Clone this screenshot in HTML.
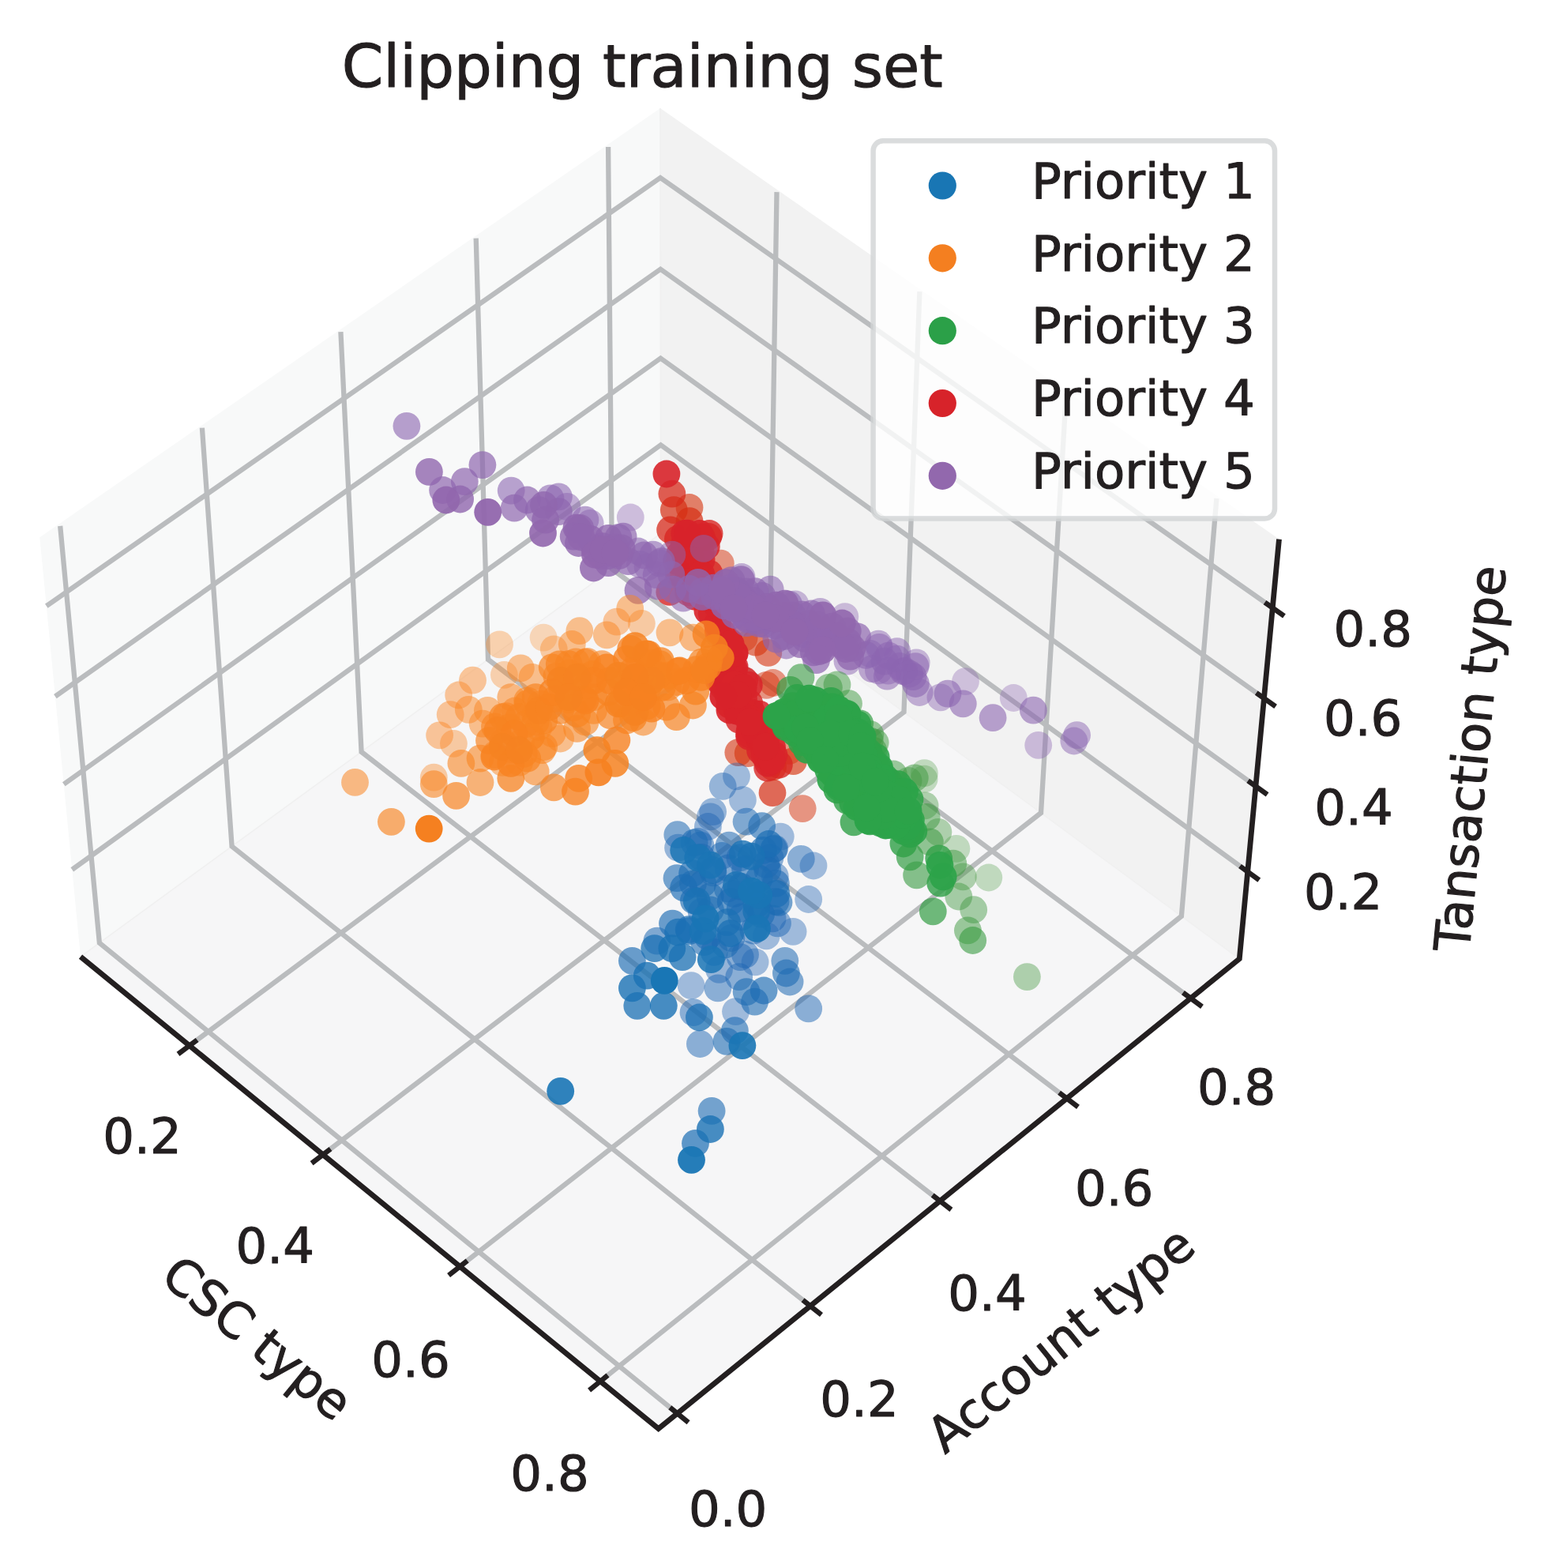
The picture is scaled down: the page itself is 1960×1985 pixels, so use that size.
<!DOCTYPE html>
<html lang="en"><head><meta charset="utf-8"><title>Clipping training set</title>
<style>html,body{margin:0;padding:0;background:#fff}svg{display:block}</style></head>
<body>
<svg width="1960" height="1985" viewBox="0 0 1960 1985" font-family='"DejaVu Sans","Liberation Sans",sans-serif' fill="#231f20">
<style>text{stroke:#231f20;stroke-width:1.1px;stroke-linejoin:round}</style>
<rect width="1960" height="1985" fill="#fff"/>
<g id="panes">
<polygon points="102.0,1211.1 836.7,675.3 836.0,137.1 50.3,680.3" fill="#f8f9f9"/>
<polygon points="836.7,675.3 1569.3,1213.8 1619.5,682.6 836.0,137.1" fill="#f2f2f2"/>
<polygon points="102.0,1211.1 833.7,1808.7 1569.3,1213.8 836.7,675.3" fill="#f6f6f7"/>
<line x1="836.7" y1="675.3" x2="836.0" y2="137.1" stroke="#f0f0f0" stroke-width="1.6"/>
<line x1="836.7" y1="675.3" x2="102.0" y2="1211.1" stroke="#f0f0f0" stroke-width="1.6"/>
<line x1="836.7" y1="675.3" x2="1569.3" y2="1213.8" stroke="#f0f0f0" stroke-width="1.6"/>
</g>
<g id="grid" fill="none" stroke="#babcbe" stroke-width="6.3" stroke-linejoin="miter" stroke-linecap="butt">
<polyline points="239.9,1323.7 975.1,777.0 983.5,243.1"/>
<polyline points="408.9,1461.7 1144.5,901.5 1164.4,369.1"/>
<polyline points="582.3,1603.3 1318.0,1029.1 1350.0,498.3"/>
<polyline points="760.1,1748.6 1495.9,1159.8 1540.4,631.0"/>
<polyline points="857.6,1789.3 125.9,1193.7 76.2,665.9"/>
<polyline points="1025.9,1653.2 293.6,1071.4 255.9,541.6"/>
<polyline points="1190.2,1520.4 457.6,951.8 431.4,420.2"/>
<polyline points="1350.7,1390.5 618.0,834.8 602.7,301.7"/>
<polyline points="1507.5,1263.7 774.9,720.4 770.1,186.0"/>
<polyline points="91.3,1100.9 836.6,563.3 1579.7,1103.5"/>
<polyline points="80.8,992.8 836.4,453.5 1590.0,995.3"/>
<polyline points="69.9,881.6 836.3,340.8 1600.5,884.0"/>
<polyline points="58.8,767.2 836.1,225.0 1611.3,769.5"/>
</g>
<g id="axes" fill="none" stroke="#231f20" stroke-width="6.8" stroke-linecap="butt" stroke-linejoin="miter">
<polyline points="102.0,1211.1 833.7,1808.7 1569.3,1213.8 1619.5,682.6"/>
</g>
<g id="ticks" stroke="#231f20" stroke-width="6.4" stroke-linecap="butt">
<line x1="249.6" y1="1316.5" x2="225.5" y2="1334.4"/>
<line x1="418.5" y1="1454.5" x2="394.6" y2="1472.6"/>
<line x1="591.7" y1="1595.9" x2="568.1" y2="1614.4"/>
<line x1="769.5" y1="1741.1" x2="746.1" y2="1759.9"/>
<line x1="848.3" y1="1781.7" x2="871.6" y2="1800.7"/>
<line x1="1016.5" y1="1645.8" x2="1040.0" y2="1664.4"/>
<line x1="1180.7" y1="1513.0" x2="1204.4" y2="1531.4"/>
<line x1="1341.1" y1="1383.3" x2="1365.0" y2="1401.4"/>
<line x1="1497.9" y1="1256.6" x2="1522.0" y2="1274.4"/>
<line x1="1570.0" y1="1096.5" x2="1594.3" y2="1114.1"/>
<line x1="1580.2" y1="988.3" x2="1604.6" y2="1005.8"/>
<line x1="1590.7" y1="877.1" x2="1615.1" y2="894.4"/>
<line x1="1601.5" y1="762.6" x2="1626.0" y2="779.9"/>
</g>
<g id="ticklabels">
<text x="180.0" y="1460.1" font-size="62.5" text-anchor="middle">0.2</text>
<text x="348.3" y="1598.5" font-size="62.5" text-anchor="middle">0.4</text>
<text x="520.0" y="1742.5" font-size="62.5" text-anchor="middle">0.6</text>
<text x="696.0" y="1886.8" font-size="62.5" text-anchor="middle">0.8</text>
<text x="921.7" y="1931.8" font-size="62.5" text-anchor="middle">0.0</text>
<text x="1088.0" y="1792.8" font-size="62.5" text-anchor="middle">0.2</text>
<text x="1250.0" y="1658.8" font-size="62.5" text-anchor="middle">0.4</text>
<text x="1410.7" y="1526.1" font-size="62.5" text-anchor="middle">0.6</text>
<text x="1565.7" y="1397.8" font-size="62.5" text-anchor="middle">0.8</text>
<text x="1700.7" y="1151.1" font-size="62.5" text-anchor="middle">0.2</text>
<text x="1714.0" y="1043.5" font-size="62.5" text-anchor="middle">0.4</text>
<text x="1725.7" y="931.1" font-size="62.5" text-anchor="middle">0.6</text>
<text x="1738.3" y="817.8" font-size="62.5" text-anchor="middle">0.8</text>
</g>
<g id="axislabels">
<text transform="translate(323.3,1697.3) rotate(39.10)" x="0" y="17.5" font-size="62.5" text-anchor="middle">CSC type</text>
<text transform="translate(1345.8,1698.9) rotate(-38.90)" x="0" y="17.5" font-size="62.5" text-anchor="middle">Account type</text>
<text transform="translate(1866.0,960.5) rotate(-84.50)" x="0" y="17.5" font-size="62.5" text-anchor="middle">Tansaction type</text>
</g>
<g id="points">
<g id="red">
<circle cx="912.3" cy="713.2" r="17.4" fill="#d6320c" fill-opacity="0.50"/>
<circle cx="942.1" cy="807.5" r="17.4" fill="#d6320c" fill-opacity="0.50"/>
<circle cx="970.4" cy="867.3" r="17.4" fill="#d6320c" fill-opacity="0.50"/>
<circle cx="999.1" cy="950.4" r="17.4" fill="#d6320c" fill-opacity="0.50"/>
<circle cx="1016.2" cy="1023.6" r="17.4" fill="#d6320c" fill-opacity="0.50"/>
<circle cx="978.8" cy="864.5" r="17.4" fill="#d6320c" fill-opacity="0.50"/>
<circle cx="873.0" cy="642.5" r="17.4" fill="#d6320c" fill-opacity="0.60"/>
<circle cx="972.8" cy="826.4" r="17.4" fill="#d6320c" fill-opacity="0.60"/>
<circle cx="947.2" cy="953.6" r="17.4" fill="#d6320c" fill-opacity="0.60"/>
<circle cx="956.8" cy="813.1" r="17.4" fill="#d6320c" fill-opacity="0.60"/>
<circle cx="934.8" cy="952.6" r="17.4" fill="#d6320c" fill-opacity="0.60"/>
<circle cx="1004.5" cy="963.6" r="17.4" fill="#d6320c" fill-opacity="0.65"/>
<circle cx="853.3" cy="645.6" r="17.4" fill="#d62e13" fill-opacity="0.70"/>
<circle cx="873.0" cy="659.7" r="17.4" fill="#d62e13" fill-opacity="0.70"/>
<circle cx="978.6" cy="970.9" r="17.4" fill="#d62e13" fill-opacity="0.70"/>
<circle cx="978.0" cy="1003.7" r="17.4" fill="#d62e13" fill-opacity="0.70"/>
<circle cx="850.9" cy="625.2" r="17.4" fill="#d72a1b" fill-opacity="0.75"/>
<circle cx="848.6" cy="670.8" r="17.4" fill="#d72a1b" fill-opacity="0.75"/>
<circle cx="898.1" cy="675.5" r="17.4" fill="#d82723" fill-opacity="0.80"/>
<circle cx="847.8" cy="749.4" r="17.4" fill="#d82723" fill-opacity="0.80"/>
<circle cx="971.7" cy="972.2" r="17.4" fill="#d82723" fill-opacity="0.80"/>
<circle cx="986.4" cy="968.1" r="17.4" fill="#d82723" fill-opacity="0.80"/>
<circle cx="898.1" cy="726.1" r="17.4" fill="#d82723" fill-opacity="0.80"/>
<circle cx="858.4" cy="682.3" r="17.4" fill="#d82723" fill-opacity="0.80"/>
<circle cx="948.7" cy="890.1" r="17.4" fill="#d82624" fill-opacity="0.81"/>
<circle cx="883.4" cy="686.9" r="17.4" fill="#d82624" fill-opacity="0.81"/>
<circle cx="896.8" cy="679.3" r="17.4" fill="#d82624" fill-opacity="0.81"/>
<circle cx="922.3" cy="861.0" r="17.4" fill="#d82624" fill-opacity="0.81"/>
<circle cx="901.2" cy="776.8" r="17.4" fill="#d82624" fill-opacity="0.81"/>
<circle cx="970.8" cy="957.0" r="17.4" fill="#d82624" fill-opacity="0.81"/>
<circle cx="935.8" cy="911.1" r="17.4" fill="#d82526" fill-opacity="0.82"/>
<circle cx="887.4" cy="699.3" r="17.4" fill="#d82526" fill-opacity="0.82"/>
<circle cx="915.4" cy="869.2" r="17.4" fill="#d82526" fill-opacity="0.82"/>
<circle cx="942.6" cy="861.4" r="17.4" fill="#d82526" fill-opacity="0.82"/>
<circle cx="931.6" cy="892.2" r="17.4" fill="#d82526" fill-opacity="0.82"/>
<circle cx="888.4" cy="680.0" r="17.4" fill="#d82427" fill-opacity="0.83"/>
<circle cx="972.0" cy="924.6" r="17.4" fill="#d82427" fill-opacity="0.83"/>
<circle cx="871.6" cy="749.9" r="17.4" fill="#d82427" fill-opacity="0.83"/>
<circle cx="930.0" cy="827.1" r="17.4" fill="#d82427" fill-opacity="0.83"/>
<circle cx="915.8" cy="865.2" r="17.4" fill="#d82427" fill-opacity="0.83"/>
<circle cx="909.9" cy="861.1" r="17.4" fill="#d82427" fill-opacity="0.83"/>
<circle cx="967.3" cy="914.1" r="17.4" fill="#d82428" fill-opacity="0.84"/>
<circle cx="949.1" cy="925.5" r="17.4" fill="#d82428" fill-opacity="0.84"/>
<circle cx="928.6" cy="871.4" r="17.4" fill="#d82428" fill-opacity="0.84"/>
<circle cx="928.1" cy="855.2" r="17.4" fill="#d82428" fill-opacity="0.84"/>
<circle cx="914.9" cy="800.9" r="17.4" fill="#d8232a" fill-opacity="0.85"/>
<circle cx="941.5" cy="884.4" r="17.4" fill="#d8232a" fill-opacity="0.85"/>
<circle cx="921.8" cy="879.4" r="17.4" fill="#d8232a" fill-opacity="0.85"/>
<circle cx="967.3" cy="948.9" r="17.4" fill="#d8232a" fill-opacity="0.85"/>
<circle cx="980.0" cy="955.9" r="17.4" fill="#d8232a" fill-opacity="0.85"/>
<circle cx="948.3" cy="867.4" r="17.4" fill="#d8232a" fill-opacity="0.85"/>
<circle cx="883.1" cy="738.3" r="17.4" fill="#d8232a" fill-opacity="0.85"/>
<circle cx="889.5" cy="738.7" r="17.4" fill="#d8232a" fill-opacity="0.85"/>
<circle cx="930.1" cy="843.9" r="17.4" fill="#d8232a" fill-opacity="0.85"/>
<circle cx="962.6" cy="950.2" r="17.4" fill="#d8232a" fill-opacity="0.86"/>
<circle cx="923.6" cy="812.6" r="17.4" fill="#d8232a" fill-opacity="0.86"/>
<circle cx="961.4" cy="904.2" r="17.4" fill="#d8232a" fill-opacity="0.86"/>
<circle cx="888.1" cy="709.0" r="17.4" fill="#d8232a" fill-opacity="0.86"/>
<circle cx="894.3" cy="691.8" r="17.4" fill="#d8232a" fill-opacity="0.86"/>
<circle cx="972.5" cy="966.2" r="17.4" fill="#d8232a" fill-opacity="0.87"/>
<circle cx="929.4" cy="847.4" r="17.4" fill="#d8232a" fill-opacity="0.87"/>
<circle cx="872.7" cy="728.3" r="17.4" fill="#d8232a" fill-opacity="0.87"/>
<circle cx="932.8" cy="899.9" r="17.4" fill="#d8232a" fill-opacity="0.88"/>
<circle cx="926.6" cy="835.2" r="17.4" fill="#d8232a" fill-opacity="0.88"/>
<circle cx="948.7" cy="932.5" r="17.4" fill="#d8232a" fill-opacity="0.88"/>
<circle cx="948.7" cy="929.3" r="17.4" fill="#d8232a" fill-opacity="0.88"/>
<circle cx="869.7" cy="702.5" r="17.4" fill="#d8232a" fill-opacity="0.88"/>
<circle cx="866.1" cy="689.6" r="17.4" fill="#d8232a" fill-opacity="0.88"/>
<circle cx="966.3" cy="928.6" r="17.4" fill="#d8232a" fill-opacity="0.89"/>
<circle cx="961.2" cy="934.9" r="17.4" fill="#d8232a" fill-opacity="0.89"/>
<circle cx="921.5" cy="832.8" r="17.4" fill="#d8232a" fill-opacity="0.89"/>
<circle cx="875.4" cy="708.7" r="17.4" fill="#d8232a" fill-opacity="0.89"/>
<circle cx="952.1" cy="902.3" r="17.4" fill="#d8232a" fill-opacity="0.89"/>
<circle cx="879.7" cy="755.1" r="17.4" fill="#d8232a" fill-opacity="0.89"/>
<circle cx="860.0" cy="702.6" r="17.4" fill="#d8232a" fill-opacity="0.89"/>
<circle cx="856.5" cy="710.4" r="17.4" fill="#d8232a" fill-opacity="0.90"/>
<circle cx="970.1" cy="936.0" r="17.4" fill="#d8232a" fill-opacity="0.90"/>
<circle cx="923.7" cy="892.2" r="17.4" fill="#d8232a" fill-opacity="0.90"/>
<circle cx="917.9" cy="826.6" r="17.4" fill="#d8232a" fill-opacity="0.90"/>
<circle cx="843.9" cy="600.0" r="17.4" fill="#d8232a" fill-opacity="0.90"/>
<circle cx="866.7" cy="675.5" r="17.4" fill="#d8232a" fill-opacity="0.90"/>
<circle cx="885.5" cy="675.5" r="17.4" fill="#d8232a" fill-opacity="0.90"/>
<circle cx="938.7" cy="895.2" r="17.4" fill="#d8232a" fill-opacity="0.90"/>
<circle cx="977.6" cy="946.2" r="17.4" fill="#d8232a" fill-opacity="0.90"/>
<circle cx="908.4" cy="789.4" r="17.4" fill="#d8232a" fill-opacity="0.90"/>
<circle cx="968.7" cy="933.3" r="17.4" fill="#d8232a" fill-opacity="0.90"/>
<circle cx="888.2" cy="746.4" r="17.4" fill="#d8232a" fill-opacity="0.90"/>
<circle cx="909.3" cy="799.3" r="17.4" fill="#d8232a" fill-opacity="0.90"/>
<circle cx="914.4" cy="851.7" r="17.4" fill="#d8232a" fill-opacity="0.90"/>
<circle cx="868.8" cy="708.7" r="17.4" fill="#d8232a" fill-opacity="0.91"/>
<circle cx="942.5" cy="902.4" r="17.4" fill="#d8232a" fill-opacity="0.91"/>
<circle cx="915.4" cy="842.5" r="17.4" fill="#d8232a" fill-opacity="0.91"/>
<circle cx="895.9" cy="773.2" r="17.4" fill="#d8232a" fill-opacity="0.91"/>
<circle cx="923.9" cy="899.0" r="17.4" fill="#d8232a" fill-opacity="0.91"/>
<circle cx="930.2" cy="826.7" r="17.4" fill="#d8232a" fill-opacity="0.91"/>
<circle cx="962.1" cy="916.2" r="17.4" fill="#d8232a" fill-opacity="0.91"/>
<circle cx="918.4" cy="821.4" r="17.4" fill="#d8232a" fill-opacity="0.91"/>
<circle cx="926.0" cy="878.4" r="17.4" fill="#d8232a" fill-opacity="0.91"/>
<circle cx="968.1" cy="956.4" r="17.4" fill="#d8232a" fill-opacity="0.91"/>
<circle cx="948.9" cy="909.8" r="17.4" fill="#d8232a" fill-opacity="0.91"/>
<circle cx="903.0" cy="744.4" r="17.4" fill="#d8232a" fill-opacity="0.91"/>
<circle cx="859.2" cy="726.0" r="17.4" fill="#d8232a" fill-opacity="0.92"/>
<circle cx="914.9" cy="854.6" r="17.4" fill="#d8232a" fill-opacity="0.92"/>
<circle cx="955.5" cy="924.9" r="17.4" fill="#d8232a" fill-opacity="0.92"/>
<circle cx="934.5" cy="900.3" r="17.4" fill="#d8232a" fill-opacity="0.92"/>
<circle cx="930.5" cy="866.9" r="17.4" fill="#d8232a" fill-opacity="0.93"/>
<circle cx="977.3" cy="962.8" r="17.4" fill="#d8232a" fill-opacity="0.93"/>
<circle cx="887.9" cy="727.4" r="17.4" fill="#d8232a" fill-opacity="0.93"/>
<circle cx="908.1" cy="759.7" r="17.4" fill="#d8232a" fill-opacity="0.93"/>
<circle cx="925.2" cy="815.4" r="17.4" fill="#d8232a" fill-opacity="0.93"/>
<circle cx="908.3" cy="766.9" r="17.4" fill="#d8232a" fill-opacity="0.94"/>
<circle cx="869.5" cy="737.0" r="17.4" fill="#d8232a" fill-opacity="0.94"/>
<circle cx="941.2" cy="870.3" r="17.4" fill="#d8232a" fill-opacity="0.94"/>
<circle cx="949.3" cy="914.3" r="17.4" fill="#d8232a" fill-opacity="0.94"/>
<circle cx="969.5" cy="945.2" r="17.4" fill="#d8232a" fill-opacity="0.94"/>
<circle cx="933.9" cy="879.4" r="17.4" fill="#d8232a" fill-opacity="0.94"/>
<circle cx="870.4" cy="675.2" r="17.4" fill="#d8232a" fill-opacity="0.95"/>
<circle cx="915.8" cy="881.5" r="17.4" fill="#d8232a" fill-opacity="0.95"/>
<circle cx="895.1" cy="756.3" r="17.4" fill="#d8232a" fill-opacity="0.95"/>
</g>
<g id="purple">
<circle cx="1222.5" cy="862.6" r="17.4" fill="#8b65b1" fill-opacity="0.35"/>
<circle cx="1283.3" cy="883.5" r="17.4" fill="#8b65b1" fill-opacity="0.35"/>
<circle cx="798.3" cy="655.0" r="17.4" fill="#8b65b1" fill-opacity="0.40"/>
<circle cx="1069.8" cy="780.6" r="17.4" fill="#8b65b1" fill-opacity="0.40"/>
<circle cx="1314.7" cy="943.3" r="17.4" fill="#8b65b1" fill-opacity="0.40"/>
<circle cx="1006.9" cy="764.9" r="17.4" fill="#8b65b1" fill-opacity="0.45"/>
<circle cx="1160.2" cy="838.8" r="17.4" fill="#8b65b1" fill-opacity="0.45"/>
<circle cx="1190.9" cy="882.8" r="17.4" fill="#8b65b1" fill-opacity="0.45"/>
<circle cx="1112.4" cy="849.0" r="17.4" fill="#8b65b1" fill-opacity="0.47"/>
<circle cx="1145.2" cy="849.3" r="17.4" fill="#8b65b1" fill-opacity="0.47"/>
<circle cx="1124.4" cy="849.2" r="17.4" fill="#8b65b1" fill-opacity="0.48"/>
<circle cx="717.9" cy="641.4" r="17.4" fill="#8b65b1" fill-opacity="0.50"/>
<circle cx="747.2" cy="662.4" r="17.4" fill="#8b65b1" fill-opacity="0.50"/>
<circle cx="850.9" cy="702.2" r="17.4" fill="#8b65b1" fill-opacity="0.50"/>
<circle cx="891.0" cy="694.3" r="17.4" fill="#8b65b1" fill-opacity="0.50"/>
<circle cx="939.0" cy="730.5" r="17.4" fill="#8b65b1" fill-opacity="0.50"/>
<circle cx="1038.4" cy="774.3" r="17.4" fill="#8b65b1" fill-opacity="0.50"/>
<circle cx="1112.3" cy="815.2" r="17.4" fill="#8b65b1" fill-opacity="0.50"/>
<circle cx="1135.8" cy="824.7" r="17.4" fill="#8b65b1" fill-opacity="0.50"/>
<circle cx="1164.2" cy="876.5" r="17.4" fill="#8b65b1" fill-opacity="0.50"/>
<circle cx="1073.0" cy="837.2" r="17.4" fill="#8b65b1" fill-opacity="0.50"/>
<circle cx="1139.0" cy="843.5" r="17.4" fill="#8b65b1" fill-opacity="0.50"/>
<circle cx="1363.6" cy="930.7" r="17.4" fill="#8b65b1" fill-opacity="0.50"/>
<circle cx="1359.8" cy="938.0" r="17.4" fill="#8b65b1" fill-opacity="0.50"/>
<circle cx="1135.5" cy="834.1" r="17.4" fill="#8b65b1" fill-opacity="0.52"/>
<circle cx="1101.5" cy="827.4" r="17.4" fill="#8b65b1" fill-opacity="0.52"/>
<circle cx="1113.2" cy="819.3" r="17.4" fill="#8c65b1" fill-opacity="0.54"/>
<circle cx="1123.3" cy="856.1" r="17.4" fill="#8c65b0" fill-opacity="0.55"/>
<circle cx="1104.4" cy="846.7" r="17.4" fill="#8c65b0" fill-opacity="0.55"/>
<circle cx="1143.9" cy="850.0" r="17.4" fill="#8c65b0" fill-opacity="0.55"/>
<circle cx="1125.1" cy="830.1" r="17.4" fill="#8c65b0" fill-opacity="0.55"/>
<circle cx="820.0" cy="717.6" r="17.4" fill="#8c65b0" fill-opacity="0.56"/>
<circle cx="810.4" cy="714.4" r="17.4" fill="#8c65b0" fill-opacity="0.56"/>
<circle cx="1159.1" cy="843.6" r="17.4" fill="#8c65b0" fill-opacity="0.56"/>
<circle cx="1156.2" cy="856.6" r="17.4" fill="#8c65b0" fill-opacity="0.59"/>
<circle cx="647.2" cy="621.1" r="17.4" fill="#8c65b0" fill-opacity="0.60"/>
<circle cx="707.4" cy="628.8" r="17.4" fill="#8c65b0" fill-opacity="0.60"/>
<circle cx="696.9" cy="630.9" r="17.4" fill="#8c65b0" fill-opacity="0.60"/>
<circle cx="740.9" cy="658.2" r="17.4" fill="#8c65b0" fill-opacity="0.60"/>
<circle cx="808.0" cy="698.0" r="17.4" fill="#8c65b0" fill-opacity="0.60"/>
<circle cx="826.9" cy="702.2" r="17.4" fill="#8c65b0" fill-opacity="0.60"/>
<circle cx="975.2" cy="746.2" r="17.4" fill="#8c65b0" fill-opacity="0.60"/>
<circle cx="998.7" cy="765.1" r="17.4" fill="#8c65b0" fill-opacity="0.60"/>
<circle cx="995.6" cy="817.0" r="17.4" fill="#8c65b0" fill-opacity="0.60"/>
<circle cx="865.1" cy="757.2" r="17.4" fill="#8c65b0" fill-opacity="0.60"/>
<circle cx="1151.6" cy="853.0" r="17.4" fill="#8c65b0" fill-opacity="0.60"/>
<circle cx="1159.4" cy="865.5" r="17.4" fill="#8c65b0" fill-opacity="0.60"/>
<circle cx="1200.0" cy="878.1" r="17.4" fill="#8c65b0" fill-opacity="0.60"/>
<circle cx="1096.5" cy="829.4" r="17.4" fill="#8c65b0" fill-opacity="0.60"/>
<circle cx="1120.1" cy="837.2" r="17.4" fill="#8c65b0" fill-opacity="0.60"/>
<circle cx="1219.3" cy="890.9" r="17.4" fill="#8c65b0" fill-opacity="0.60"/>
<circle cx="1257.1" cy="908.7" r="17.4" fill="#8c65b0" fill-opacity="0.60"/>
<circle cx="1308.4" cy="899.2" r="17.4" fill="#8c65b0" fill-opacity="0.60"/>
<circle cx="514.9" cy="539.3" r="17.4" fill="#8d65b0" fill-opacity="0.62"/>
<circle cx="831.1" cy="727.7" r="17.4" fill="#8d65b0" fill-opacity="0.65"/>
<circle cx="834.9" cy="713.0" r="17.4" fill="#8d65b0" fill-opacity="0.65"/>
<circle cx="1049.0" cy="814.2" r="17.4" fill="#8d65af" fill-opacity="0.66"/>
<circle cx="964.9" cy="754.3" r="17.4" fill="#8e65af" fill-opacity="0.67"/>
<circle cx="944.5" cy="748.9" r="17.4" fill="#8e65af" fill-opacity="0.67"/>
<circle cx="815.6" cy="702.8" r="17.4" fill="#8e65af" fill-opacity="0.67"/>
<circle cx="1027.4" cy="777.0" r="17.4" fill="#8e65af" fill-opacity="0.69"/>
<circle cx="967.9" cy="790.1" r="17.4" fill="#8e65af" fill-opacity="0.69"/>
<circle cx="1038.4" cy="814.8" r="17.4" fill="#8e65af" fill-opacity="0.69"/>
<circle cx="981.7" cy="792.0" r="17.4" fill="#8e65af" fill-opacity="0.69"/>
<circle cx="610.9" cy="588.6" r="17.4" fill="#8e66af" fill-opacity="0.70"/>
<circle cx="588.3" cy="609.6" r="17.4" fill="#8e66af" fill-opacity="0.70"/>
<circle cx="560.6" cy="620.5" r="17.4" fill="#8e66af" fill-opacity="0.70"/>
<circle cx="651.2" cy="643.1" r="17.4" fill="#8e66af" fill-opacity="0.70"/>
<circle cx="667.5" cy="633.0" r="17.4" fill="#8e66af" fill-opacity="0.70"/>
<circle cx="682.2" cy="645.6" r="17.4" fill="#8e66af" fill-opacity="0.70"/>
<circle cx="707.4" cy="647.7" r="17.4" fill="#8e66af" fill-opacity="0.70"/>
<circle cx="789.1" cy="679.2" r="17.4" fill="#8e66af" fill-opacity="0.70"/>
<circle cx="795.4" cy="710.6" r="17.4" fill="#8e66af" fill-opacity="0.70"/>
<circle cx="837.4" cy="710.6" r="17.4" fill="#8e66af" fill-opacity="0.70"/>
<circle cx="833.2" cy="742.1" r="17.4" fill="#8e66af" fill-opacity="0.70"/>
<circle cx="849.9" cy="727.4" r="17.4" fill="#8e66af" fill-opacity="0.70"/>
<circle cx="852.0" cy="746.2" r="17.4" fill="#8e66af" fill-opacity="0.70"/>
<circle cx="983.0" cy="809.1" r="17.4" fill="#8e66af" fill-opacity="0.70"/>
<circle cx="959.4" cy="785.5" r="17.4" fill="#8e66af" fill-opacity="0.70"/>
<circle cx="945.3" cy="788.7" r="17.4" fill="#8e66af" fill-opacity="0.70"/>
<circle cx="1033.6" cy="835.7" r="17.4" fill="#8e66af" fill-opacity="0.70"/>
<circle cx="1085.5" cy="805.8" r="17.4" fill="#8e66af" fill-opacity="0.70"/>
<circle cx="955.9" cy="748.7" r="17.4" fill="#8e66af" fill-opacity="0.70"/>
<circle cx="926.1" cy="734.7" r="17.4" fill="#8e66af" fill-opacity="0.70"/>
<circle cx="782.9" cy="680.6" r="17.4" fill="#8e66af" fill-opacity="0.70"/>
<circle cx="928.6" cy="763.6" r="17.4" fill="#8e66af" fill-opacity="0.71"/>
<circle cx="982.4" cy="783.0" r="17.4" fill="#8e66af" fill-opacity="0.71"/>
<circle cx="960.7" cy="778.2" r="17.4" fill="#8e66af" fill-opacity="0.72"/>
<circle cx="932.3" cy="747.4" r="17.4" fill="#8e66af" fill-opacity="0.72"/>
<circle cx="889.7" cy="748.5" r="17.4" fill="#8e66af" fill-opacity="0.72"/>
<circle cx="1019.1" cy="808.4" r="17.4" fill="#8e66af" fill-opacity="0.72"/>
<circle cx="1014.7" cy="793.4" r="17.4" fill="#8e66af" fill-opacity="0.72"/>
<circle cx="921.7" cy="748.4" r="17.4" fill="#8e66af" fill-opacity="0.73"/>
<circle cx="873.0" cy="745.5" r="17.4" fill="#8e66af" fill-opacity="0.73"/>
<circle cx="947.0" cy="784.2" r="17.4" fill="#8e66af" fill-opacity="0.73"/>
<circle cx="972.4" cy="781.8" r="17.4" fill="#8e66af" fill-opacity="0.73"/>
<circle cx="992.0" cy="778.9" r="17.4" fill="#8e66af" fill-opacity="0.73"/>
<circle cx="935.3" cy="771.2" r="17.4" fill="#8f66af" fill-opacity="0.74"/>
<circle cx="1003.6" cy="779.0" r="17.4" fill="#8f66af" fill-opacity="0.74"/>
<circle cx="779.0" cy="692.9" r="17.4" fill="#8f66af" fill-opacity="0.74"/>
<circle cx="923.6" cy="744.6" r="17.4" fill="#8f66af" fill-opacity="0.74"/>
<circle cx="1013.3" cy="815.6" r="17.4" fill="#8f66ae" fill-opacity="0.75"/>
<circle cx="1076.5" cy="831.2" r="17.4" fill="#8f66ae" fill-opacity="0.75"/>
<circle cx="808.0" cy="747.3" r="17.4" fill="#8f66ae" fill-opacity="0.75"/>
<circle cx="1030.3" cy="825.8" r="17.4" fill="#8f66ae" fill-opacity="0.75"/>
<circle cx="943.1" cy="760.0" r="17.4" fill="#8f66ae" fill-opacity="0.75"/>
<circle cx="961.1" cy="789.4" r="17.4" fill="#8f66ae" fill-opacity="0.75"/>
<circle cx="903.8" cy="744.2" r="17.4" fill="#8f66ae" fill-opacity="0.75"/>
<circle cx="941.0" cy="757.3" r="17.4" fill="#8f66ae" fill-opacity="0.76"/>
<circle cx="993.2" cy="805.5" r="17.4" fill="#8f66ae" fill-opacity="0.76"/>
<circle cx="1058.6" cy="805.1" r="17.4" fill="#8f66ae" fill-opacity="0.76"/>
<circle cx="923.5" cy="753.8" r="17.4" fill="#8f66ae" fill-opacity="0.76"/>
<circle cx="734.7" cy="668.5" r="17.4" fill="#8f66ae" fill-opacity="0.76"/>
<circle cx="1073.3" cy="798.9" r="17.4" fill="#8f66ae" fill-opacity="0.76"/>
<circle cx="1017.7" cy="802.6" r="17.4" fill="#8f66ae" fill-opacity="0.77"/>
<circle cx="953.4" cy="760.4" r="17.4" fill="#8f66ae" fill-opacity="0.77"/>
<circle cx="1066.3" cy="816.5" r="17.4" fill="#8f66ae" fill-opacity="0.77"/>
<circle cx="921.0" cy="762.3" r="17.4" fill="#8f66ae" fill-opacity="0.77"/>
<circle cx="1024.0" cy="789.7" r="17.4" fill="#8f66ae" fill-opacity="0.78"/>
<circle cx="1036.3" cy="791.7" r="17.4" fill="#8f66ae" fill-opacity="0.78"/>
<circle cx="1015.1" cy="777.8" r="17.4" fill="#8f66ae" fill-opacity="0.78"/>
<circle cx="761.0" cy="703.8" r="17.4" fill="#8f66ae" fill-opacity="0.78"/>
<circle cx="1053.9" cy="793.2" r="17.4" fill="#8f66ae" fill-opacity="0.79"/>
<circle cx="784.0" cy="703.4" r="17.4" fill="#8f66ae" fill-opacity="0.79"/>
<circle cx="938.3" cy="733.7" r="17.4" fill="#8f66ae" fill-opacity="0.79"/>
<circle cx="543.4" cy="597.4" r="17.4" fill="#9066ae" fill-opacity="0.80"/>
<circle cx="582.6" cy="632.0" r="17.4" fill="#9066ae" fill-opacity="0.80"/>
<circle cx="688.5" cy="639.3" r="17.4" fill="#9066ae" fill-opacity="0.80"/>
<circle cx="690.6" cy="658.2" r="17.4" fill="#9066ae" fill-opacity="0.80"/>
<circle cx="732.5" cy="670.8" r="17.4" fill="#9066ae" fill-opacity="0.80"/>
<circle cx="726.2" cy="679.2" r="17.4" fill="#9066ae" fill-opacity="0.80"/>
<circle cx="732.5" cy="687.5" r="17.4" fill="#9066ae" fill-opacity="0.80"/>
<circle cx="770.3" cy="681.3" r="17.4" fill="#9066ae" fill-opacity="0.80"/>
<circle cx="770.3" cy="712.7" r="17.4" fill="#9066ae" fill-opacity="0.80"/>
<circle cx="787.0" cy="693.8" r="17.4" fill="#9066ae" fill-opacity="0.80"/>
<circle cx="1036.8" cy="824.7" r="17.4" fill="#9066ae" fill-opacity="0.80"/>
<circle cx="1002.0" cy="789.8" r="17.4" fill="#9066ae" fill-opacity="0.81"/>
<circle cx="904.7" cy="755.0" r="17.4" fill="#9066ae" fill-opacity="0.81"/>
<circle cx="943.0" cy="780.5" r="17.4" fill="#9066ae" fill-opacity="0.81"/>
<circle cx="889.3" cy="755.3" r="17.4" fill="#9066ae" fill-opacity="0.81"/>
<circle cx="763.1" cy="691.6" r="17.4" fill="#9066ae" fill-opacity="0.81"/>
<circle cx="883.9" cy="737.3" r="17.4" fill="#9066ae" fill-opacity="0.81"/>
<circle cx="954.8" cy="782.1" r="17.4" fill="#9066ae" fill-opacity="0.82"/>
<circle cx="1079.0" cy="820.3" r="17.4" fill="#9066ae" fill-opacity="0.82"/>
<circle cx="943.4" cy="763.4" r="17.4" fill="#9066ae" fill-opacity="0.82"/>
<circle cx="930.2" cy="778.4" r="17.4" fill="#9066ae" fill-opacity="0.82"/>
<circle cx="948.4" cy="771.0" r="17.4" fill="#9066ae" fill-opacity="0.82"/>
<circle cx="1034.5" cy="798.6" r="17.4" fill="#9066ae" fill-opacity="0.83"/>
<circle cx="747.5" cy="682.3" r="17.4" fill="#9066ae" fill-opacity="0.83"/>
<circle cx="1046.4" cy="800.9" r="17.4" fill="#9066ae" fill-opacity="0.83"/>
<circle cx="1073.5" cy="812.5" r="17.4" fill="#9066ae" fill-opacity="0.84"/>
<circle cx="1070.6" cy="821.5" r="17.4" fill="#9066ae" fill-opacity="0.84"/>
<circle cx="934.4" cy="754.4" r="17.4" fill="#9066ae" fill-opacity="0.84"/>
<circle cx="769.2" cy="703.6" r="17.4" fill="#9066ae" fill-opacity="0.84"/>
<circle cx="751.4" cy="719.0" r="17.4" fill="#9066ae" fill-opacity="0.85"/>
<circle cx="917.3" cy="766.8" r="17.4" fill="#9066ae" fill-opacity="0.85"/>
<circle cx="971.0" cy="768.3" r="17.4" fill="#9066ae" fill-opacity="0.85"/>
<circle cx="752.9" cy="694.0" r="17.4" fill="#9066ae" fill-opacity="0.85"/>
<circle cx="983.0" cy="766.2" r="17.4" fill="#9066ae" fill-opacity="0.85"/>
<circle cx="730.0" cy="668.2" r="17.4" fill="#9066ad" fill-opacity="0.86"/>
<circle cx="736.0" cy="680.0" r="17.4" fill="#9066ad" fill-opacity="0.86"/>
<circle cx="954.9" cy="769.5" r="17.4" fill="#9166ad" fill-opacity="0.87"/>
<circle cx="1041.3" cy="822.9" r="17.4" fill="#9166ad" fill-opacity="0.87"/>
<circle cx="919.0" cy="737.6" r="17.4" fill="#9166ad" fill-opacity="0.87"/>
<circle cx="993.9" cy="764.1" r="17.4" fill="#9166ad" fill-opacity="0.88"/>
<circle cx="981.9" cy="782.8" r="17.4" fill="#9166ad" fill-opacity="0.89"/>
<circle cx="968.8" cy="778.9" r="17.4" fill="#9166ad" fill-opacity="0.89"/>
<circle cx="1066.2" cy="789.0" r="17.4" fill="#9166ad" fill-opacity="0.89"/>
<circle cx="913.9" cy="747.4" r="17.4" fill="#9166ad" fill-opacity="0.89"/>
<circle cx="1041.9" cy="778.8" r="17.4" fill="#9166ad" fill-opacity="0.89"/>
<circle cx="1006.0" cy="799.6" r="17.4" fill="#9166ad" fill-opacity="0.90"/>
<circle cx="929.2" cy="770.1" r="17.4" fill="#9166ad" fill-opacity="0.90"/>
<circle cx="564.8" cy="633.0" r="17.4" fill="#9166ad" fill-opacity="0.90"/>
<circle cx="687.5" cy="675.0" r="17.4" fill="#9166ad" fill-opacity="0.90"/>
<circle cx="753.5" cy="702.2" r="17.4" fill="#9166ad" fill-opacity="0.90"/>
<circle cx="764.0" cy="695.9" r="17.4" fill="#9166ad" fill-opacity="0.90"/>
<circle cx="778.7" cy="700.1" r="17.4" fill="#9166ad" fill-opacity="0.90"/>
<circle cx="617.7" cy="648.3" r="17.4" fill="#9166ad" fill-opacity="0.95"/>
</g>
<g id="orange">
<circle cx="688.1" cy="807.1" r="17.4" fill="#fa8723" fill-opacity="0.30"/>
<circle cx="632.5" cy="815.9" r="17.4" fill="#fa8723" fill-opacity="0.35"/>
<circle cx="638.4" cy="854.3" r="17.4" fill="#fa8723" fill-opacity="0.35"/>
<circle cx="812.4" cy="789.3" r="17.4" fill="#fa8723" fill-opacity="0.40"/>
<circle cx="701.3" cy="821.8" r="17.4" fill="#fa8723" fill-opacity="0.40"/>
<circle cx="574.4" cy="941.3" r="17.4" fill="#fa8723" fill-opacity="0.40"/>
<circle cx="549.3" cy="984.2" r="17.4" fill="#fa8723" fill-opacity="0.40"/>
<circle cx="780.9" cy="787.2" r="17.4" fill="#fa8623" fill-opacity="0.45"/>
<circle cx="598.5" cy="861.2" r="17.4" fill="#fa8623" fill-opacity="0.45"/>
<circle cx="580.7" cy="880.0" r="17.4" fill="#fa8623" fill-opacity="0.45"/>
<circle cx="570.2" cy="904.6" r="17.4" fill="#fa8623" fill-opacity="0.45"/>
<circle cx="556.6" cy="930.8" r="17.4" fill="#fa8623" fill-opacity="0.45"/>
<circle cx="672.7" cy="931.9" r="17.4" fill="#fa8623" fill-opacity="0.45"/>
<circle cx="647.1" cy="948.7" r="17.4" fill="#fa8623" fill-opacity="0.46"/>
<circle cx="682.1" cy="920.7" r="17.4" fill="#f98623" fill-opacity="0.49"/>
<circle cx="797.7" cy="770.4" r="17.4" fill="#f98622" fill-opacity="0.50"/>
<circle cx="733.8" cy="798.7" r="17.4" fill="#f98622" fill-opacity="0.50"/>
<circle cx="768.3" cy="803.9" r="17.4" fill="#f98622" fill-opacity="0.50"/>
<circle cx="848.0" cy="800.8" r="17.4" fill="#f98622" fill-opacity="0.50"/>
<circle cx="724.3" cy="815.5" r="17.4" fill="#f98622" fill-opacity="0.50"/>
<circle cx="659.3" cy="845.9" r="17.4" fill="#f98622" fill-opacity="0.50"/>
<circle cx="674.0" cy="857.4" r="17.4" fill="#f98622" fill-opacity="0.50"/>
<circle cx="593.3" cy="898.3" r="17.4" fill="#f98622" fill-opacity="0.50"/>
<circle cx="617.4" cy="899.3" r="17.4" fill="#f98622" fill-opacity="0.50"/>
<circle cx="611.1" cy="916.1" r="17.4" fill="#f98622" fill-opacity="0.50"/>
<circle cx="709.6" cy="935.0" r="17.4" fill="#f98622" fill-opacity="0.50"/>
<circle cx="636.4" cy="965.4" r="17.4" fill="#f98622" fill-opacity="0.50"/>
<circle cx="677.8" cy="904.4" r="17.4" fill="#f98622" fill-opacity="0.52"/>
<circle cx="657.7" cy="965.2" r="17.4" fill="#f98522" fill-opacity="0.53"/>
<circle cx="449.5" cy="990.4" r="17.4" fill="#f98522" fill-opacity="0.55"/>
<circle cx="877.4" cy="807.1" r="17.4" fill="#f98522" fill-opacity="0.55"/>
<circle cx="646.8" cy="882.6" r="17.4" fill="#f98522" fill-opacity="0.55"/>
<circle cx="699.2" cy="928.7" r="17.4" fill="#f98522" fill-opacity="0.55"/>
<circle cx="652.0" cy="900.0" r="17.4" fill="#f98522" fill-opacity="0.55"/>
<circle cx="626.4" cy="955.7" r="17.4" fill="#f98522" fill-opacity="0.56"/>
<circle cx="659.7" cy="940.3" r="17.4" fill="#f98522" fill-opacity="0.57"/>
<circle cx="743.5" cy="837.4" r="17.4" fill="#f88522" fill-opacity="0.58"/>
<circle cx="640.8" cy="906.6" r="17.4" fill="#f88522" fill-opacity="0.58"/>
<circle cx="733.5" cy="856.2" r="17.4" fill="#f88522" fill-opacity="0.59"/>
<circle cx="751.9" cy="882.7" r="17.4" fill="#f88522" fill-opacity="0.59"/>
<circle cx="686.5" cy="949.7" r="17.4" fill="#f88522" fill-opacity="0.59"/>
<circle cx="703.6" cy="884.4" r="17.4" fill="#f88522" fill-opacity="0.60"/>
<circle cx="718.6" cy="885.9" r="17.4" fill="#f88522" fill-opacity="0.60"/>
<circle cx="636.6" cy="939.4" r="17.4" fill="#f88522" fill-opacity="0.60"/>
<circle cx="762.1" cy="840.6" r="17.4" fill="#f88522" fill-opacity="0.60"/>
<circle cx="751.6" cy="899.3" r="17.4" fill="#f88522" fill-opacity="0.60"/>
<circle cx="814.5" cy="914.0" r="17.4" fill="#f88522" fill-opacity="0.60"/>
<circle cx="845.9" cy="870.0" r="17.4" fill="#f88522" fill-opacity="0.60"/>
<circle cx="667.7" cy="886.8" r="17.4" fill="#f88522" fill-opacity="0.60"/>
<circle cx="684.5" cy="890.9" r="17.4" fill="#f88522" fill-opacity="0.60"/>
<circle cx="688.7" cy="945.5" r="17.4" fill="#f88522" fill-opacity="0.60"/>
<circle cx="583.9" cy="966.4" r="17.4" fill="#f88522" fill-opacity="0.60"/>
<circle cx="608.0" cy="960.1" r="17.4" fill="#f88522" fill-opacity="0.60"/>
<circle cx="549.3" cy="992.6" r="17.4" fill="#f88522" fill-opacity="0.60"/>
<circle cx="608.0" cy="990.5" r="17.4" fill="#f88522" fill-opacity="0.60"/>
<circle cx="678.2" cy="976.9" r="17.4" fill="#f88522" fill-opacity="0.60"/>
<circle cx="730.6" cy="922.4" r="17.4" fill="#f88522" fill-opacity="0.60"/>
<circle cx="741.1" cy="914.0" r="17.4" fill="#f88522" fill-opacity="0.60"/>
<circle cx="801.8" cy="890.0" r="17.4" fill="#f88522" fill-opacity="0.60"/>
<circle cx="645.1" cy="920.9" r="17.4" fill="#f88522" fill-opacity="0.60"/>
<circle cx="729.0" cy="837.9" r="17.4" fill="#f88522" fill-opacity="0.61"/>
<circle cx="720.5" cy="852.0" r="17.4" fill="#f88522" fill-opacity="0.61"/>
<circle cx="802.1" cy="866.9" r="17.4" fill="#f88522" fill-opacity="0.61"/>
<circle cx="825.5" cy="839.3" r="17.4" fill="#f88422" fill-opacity="0.62"/>
<circle cx="730.0" cy="863.8" r="17.4" fill="#f88422" fill-opacity="0.62"/>
<circle cx="808.7" cy="834.3" r="17.4" fill="#f88422" fill-opacity="0.63"/>
<circle cx="626.5" cy="919.9" r="17.4" fill="#f88422" fill-opacity="0.63"/>
<circle cx="800.0" cy="878.7" r="17.4" fill="#f88422" fill-opacity="0.63"/>
<circle cx="725.7" cy="895.9" r="17.4" fill="#f88422" fill-opacity="0.63"/>
<circle cx="820.3" cy="869.6" r="17.4" fill="#f88422" fill-opacity="0.64"/>
<circle cx="704.8" cy="855.9" r="17.4" fill="#f88422" fill-opacity="0.64"/>
<circle cx="665.4" cy="916.7" r="17.4" fill="#f88422" fill-opacity="0.65"/>
<circle cx="495.4" cy="1040.3" r="17.4" fill="#f88422" fill-opacity="0.65"/>
<circle cx="742.9" cy="867.8" r="17.4" fill="#f88422" fill-opacity="0.66"/>
<circle cx="788.0" cy="865.9" r="17.4" fill="#f88422" fill-opacity="0.67"/>
<circle cx="800.5" cy="849.6" r="17.4" fill="#f88422" fill-opacity="0.67"/>
<circle cx="846.6" cy="854.8" r="17.4" fill="#f88422" fill-opacity="0.68"/>
<circle cx="663.3" cy="954.5" r="17.4" fill="#f88422" fill-opacity="0.69"/>
<circle cx="619.5" cy="937.6" r="17.4" fill="#f88422" fill-opacity="0.69"/>
<circle cx="668.2" cy="890.7" r="17.4" fill="#f88422" fill-opacity="0.69"/>
<circle cx="856.6" cy="863.5" r="17.4" fill="#f88422" fill-opacity="0.69"/>
<circle cx="835.4" cy="840.6" r="17.4" fill="#f88422" fill-opacity="0.70"/>
<circle cx="699.2" cy="844.8" r="17.4" fill="#f88422" fill-opacity="0.70"/>
<circle cx="720.1" cy="840.6" r="17.4" fill="#f88422" fill-opacity="0.70"/>
<circle cx="741.1" cy="838.5" r="17.4" fill="#f88422" fill-opacity="0.70"/>
<circle cx="709.6" cy="899.3" r="17.4" fill="#f88422" fill-opacity="0.70"/>
<circle cx="730.6" cy="903.5" r="17.4" fill="#f88422" fill-opacity="0.70"/>
<circle cx="793.5" cy="911.9" r="17.4" fill="#f88422" fill-opacity="0.70"/>
<circle cx="843.8" cy="895.1" r="17.4" fill="#f88422" fill-opacity="0.70"/>
<circle cx="856.4" cy="907.7" r="17.4" fill="#f88422" fill-opacity="0.70"/>
<circle cx="877.4" cy="893.0" r="17.4" fill="#f88422" fill-opacity="0.70"/>
<circle cx="636.3" cy="907.7" r="17.4" fill="#f88422" fill-opacity="0.70"/>
<circle cx="657.2" cy="907.7" r="17.4" fill="#f88422" fill-opacity="0.70"/>
<circle cx="678.2" cy="914.0" r="17.4" fill="#f88422" fill-opacity="0.70"/>
<circle cx="671.9" cy="932.9" r="17.4" fill="#f88422" fill-opacity="0.70"/>
<circle cx="667.7" cy="960.1" r="17.4" fill="#f88422" fill-opacity="0.70"/>
<circle cx="577.6" cy="1007.3" r="17.4" fill="#f88422" fill-opacity="0.70"/>
<circle cx="701.3" cy="996.8" r="17.4" fill="#f88422" fill-opacity="0.70"/>
<circle cx="772.5" cy="905.6" r="17.4" fill="#f88422" fill-opacity="0.70"/>
<circle cx="688.7" cy="911.9" r="17.4" fill="#f88422" fill-opacity="0.70"/>
<circle cx="678.2" cy="882.6" r="17.4" fill="#f88422" fill-opacity="0.70"/>
<circle cx="750.5" cy="853.5" r="17.4" fill="#f88422" fill-opacity="0.70"/>
<circle cx="708.3" cy="840.8" r="17.4" fill="#f88422" fill-opacity="0.70"/>
<circle cx="881.5" cy="847.6" r="17.4" fill="#f88422" fill-opacity="0.70"/>
<circle cx="888.7" cy="838.1" r="17.4" fill="#f78321" fill-opacity="0.71"/>
<circle cx="801.8" cy="908.6" r="17.4" fill="#f78321" fill-opacity="0.73"/>
<circle cx="630.0" cy="924.5" r="17.4" fill="#f78321" fill-opacity="0.75"/>
<circle cx="646.8" cy="985.3" r="17.4" fill="#f78321" fill-opacity="0.75"/>
<circle cx="880.8" cy="875.2" r="17.4" fill="#f78321" fill-opacity="0.75"/>
<circle cx="770.4" cy="876.3" r="17.4" fill="#f78321" fill-opacity="0.75"/>
<circle cx="682.4" cy="899.3" r="17.4" fill="#f78321" fill-opacity="0.75"/>
<circle cx="695.0" cy="895.1" r="17.4" fill="#f78321" fill-opacity="0.75"/>
<circle cx="786.5" cy="890.6" r="17.4" fill="#f78321" fill-opacity="0.75"/>
<circle cx="711.6" cy="871.3" r="17.4" fill="#f78321" fill-opacity="0.75"/>
<circle cx="811.2" cy="855.9" r="17.4" fill="#f78321" fill-opacity="0.76"/>
<circle cx="898.0" cy="834.6" r="17.4" fill="#f78321" fill-opacity="0.76"/>
<circle cx="836.5" cy="836.6" r="17.4" fill="#f78321" fill-opacity="0.76"/>
<circle cx="819.2" cy="894.0" r="17.4" fill="#f78321" fill-opacity="0.76"/>
<circle cx="838.2" cy="870.3" r="17.4" fill="#f78321" fill-opacity="0.77"/>
<circle cx="738.5" cy="885.1" r="17.4" fill="#f78321" fill-opacity="0.78"/>
<circle cx="798.7" cy="821.5" r="17.4" fill="#f78221" fill-opacity="0.79"/>
<circle cx="894.1" cy="802.9" r="17.4" fill="#f78221" fill-opacity="0.80"/>
<circle cx="820.8" cy="828.1" r="17.4" fill="#f78221" fill-opacity="0.80"/>
<circle cx="793.5" cy="834.3" r="17.4" fill="#f78221" fill-opacity="0.80"/>
<circle cx="860.6" cy="849.0" r="17.4" fill="#f78221" fill-opacity="0.80"/>
<circle cx="869.0" cy="861.6" r="17.4" fill="#f78221" fill-opacity="0.80"/>
<circle cx="887.8" cy="857.4" r="17.4" fill="#f78221" fill-opacity="0.80"/>
<circle cx="751.6" cy="861.6" r="17.4" fill="#f78221" fill-opacity="0.80"/>
<circle cx="699.2" cy="876.3" r="17.4" fill="#f78221" fill-opacity="0.80"/>
<circle cx="741.1" cy="886.8" r="17.4" fill="#f78221" fill-opacity="0.80"/>
<circle cx="824.9" cy="897.2" r="17.4" fill="#f78221" fill-opacity="0.80"/>
<circle cx="650.9" cy="928.7" r="17.4" fill="#f78221" fill-opacity="0.80"/>
<circle cx="625.8" cy="958.0" r="17.4" fill="#f78221" fill-opacity="0.80"/>
<circle cx="646.8" cy="966.4" r="17.4" fill="#f78221" fill-opacity="0.80"/>
<circle cx="780.9" cy="937.1" r="17.4" fill="#f78221" fill-opacity="0.80"/>
<circle cx="732.7" cy="985.3" r="17.4" fill="#f78221" fill-opacity="0.80"/>
<circle cx="728.5" cy="1002.1" r="17.4" fill="#f78221" fill-opacity="0.80"/>
<circle cx="896.5" cy="843.7" r="17.4" fill="#f78221" fill-opacity="0.80"/>
<circle cx="768.3" cy="844.8" r="17.4" fill="#f78221" fill-opacity="0.80"/>
<circle cx="772.5" cy="861.6" r="17.4" fill="#f78221" fill-opacity="0.80"/>
<circle cx="858.7" cy="849.6" r="17.4" fill="#f78221" fill-opacity="0.80"/>
<circle cx="812.8" cy="876.3" r="17.4" fill="#f68221" fill-opacity="0.82"/>
<circle cx="833.6" cy="854.8" r="17.4" fill="#f68221" fill-opacity="0.82"/>
<circle cx="818.2" cy="827.9" r="17.4" fill="#f68221" fill-opacity="0.83"/>
<circle cx="891.7" cy="848.6" r="17.4" fill="#f68221" fill-opacity="0.84"/>
<circle cx="804.0" cy="817.6" r="17.4" fill="#f68221" fill-opacity="0.85"/>
<circle cx="709.6" cy="861.6" r="17.4" fill="#f68221" fill-opacity="0.85"/>
<circle cx="730.6" cy="857.4" r="17.4" fill="#f68221" fill-opacity="0.85"/>
<circle cx="720.1" cy="882.6" r="17.4" fill="#f68221" fill-opacity="0.85"/>
<circle cx="783.0" cy="855.3" r="17.4" fill="#f68221" fill-opacity="0.85"/>
<circle cx="824.9" cy="861.6" r="17.4" fill="#f68221" fill-opacity="0.85"/>
<circle cx="783.0" cy="890.9" r="17.4" fill="#f68221" fill-opacity="0.85"/>
<circle cx="804.0" cy="901.4" r="17.4" fill="#f68221" fill-opacity="0.85"/>
<circle cx="636.3" cy="945.5" r="17.4" fill="#f68221" fill-opacity="0.85"/>
<circle cx="657.2" cy="949.6" r="17.4" fill="#f68221" fill-opacity="0.85"/>
<circle cx="755.8" cy="949.6" r="17.4" fill="#f68221" fill-opacity="0.85"/>
<circle cx="778.8" cy="966.4" r="17.4" fill="#f68221" fill-opacity="0.85"/>
<circle cx="904.4" cy="820.1" r="17.4" fill="#f68221" fill-opacity="0.85"/>
<circle cx="912.3" cy="832.7" r="17.4" fill="#f68221" fill-opacity="0.85"/>
<circle cx="804.0" cy="857.4" r="17.4" fill="#f68120" fill-opacity="0.90"/>
<circle cx="793.5" cy="876.3" r="17.4" fill="#f68120" fill-opacity="0.90"/>
<circle cx="814.5" cy="882.6" r="17.4" fill="#f68120" fill-opacity="0.90"/>
<circle cx="757.9" cy="977.9" r="17.4" fill="#f68120" fill-opacity="0.90"/>
<circle cx="543.2" cy="1049.1" r="17.4" fill="#f58020" fill-opacity="1.00"/>
</g>
<g id="green">
<circle cx="1170.4" cy="978.7" r="17.4" fill="#42943a" fill-opacity="0.30"/>
<circle cx="1170.1" cy="986.2" r="17.4" fill="#42943a" fill-opacity="0.30"/>
<circle cx="1210.9" cy="1074.3" r="17.4" fill="#42943a" fill-opacity="0.30"/>
<circle cx="1251.8" cy="1111.0" r="17.4" fill="#42943a" fill-opacity="0.30"/>
<circle cx="1150.1" cy="988.3" r="17.4" fill="#40953b" fill-opacity="0.40"/>
<circle cx="1171.1" cy="1019.8" r="17.4" fill="#40953b" fill-opacity="0.40"/>
<circle cx="1187.9" cy="1053.3" r="17.4" fill="#40953b" fill-opacity="0.40"/>
<circle cx="1219.3" cy="1109.9" r="17.4" fill="#40953b" fill-opacity="0.40"/>
<circle cx="1300.4" cy="1236.6" r="17.4" fill="#40953b" fill-opacity="0.40"/>
<circle cx="1232.7" cy="1151.7" r="17.4" fill="#3e973d" fill-opacity="0.45"/>
<circle cx="1213.8" cy="1135.0" r="17.4" fill="#3e973d" fill-opacity="0.45"/>
<circle cx="1049.4" cy="870.3" r="17.4" fill="#3c983e" fill-opacity="0.50"/>
<circle cx="1074.5" cy="890.7" r="17.4" fill="#3c983e" fill-opacity="0.50"/>
<circle cx="1101.3" cy="937.9" r="17.4" fill="#3c983e" fill-opacity="0.50"/>
<circle cx="1106.0" cy="950.4" r="17.4" fill="#3c983e" fill-opacity="0.50"/>
<circle cx="1131.3" cy="980.0" r="17.4" fill="#3c983e" fill-opacity="0.50"/>
<circle cx="1173.2" cy="1034.5" r="17.4" fill="#3c983e" fill-opacity="0.50"/>
<circle cx="1206.8" cy="1093.2" r="17.4" fill="#3c983e" fill-opacity="0.50"/>
<circle cx="1108.2" cy="940.1" r="17.4" fill="#3c983e" fill-opacity="0.50"/>
<circle cx="1101.9" cy="929.6" r="17.4" fill="#3c983e" fill-opacity="0.50"/>
<circle cx="1060.0" cy="866.8" r="17.4" fill="#3c983e" fill-opacity="0.50"/>
<circle cx="1158.3" cy="984.8" r="17.4" fill="#3c983e" fill-opacity="0.50"/>
<circle cx="1225.4" cy="1177.9" r="17.4" fill="#3c983e" fill-opacity="0.50"/>
<circle cx="1177.4" cy="1065.9" r="17.4" fill="#3a993f" fill-opacity="0.55"/>
<circle cx="1014.0" cy="857.7" r="17.4" fill="#389b41" fill-opacity="0.60"/>
<circle cx="1160.6" cy="1107.8" r="17.4" fill="#389b41" fill-opacity="0.60"/>
<circle cx="1231.7" cy="1190.5" r="17.4" fill="#389b41" fill-opacity="0.60"/>
<circle cx="1000.6" cy="873.4" r="17.4" fill="#349e44" fill-opacity="0.70"/>
<circle cx="1073.0" cy="904.8" r="17.4" fill="#349e44" fill-opacity="0.70"/>
<circle cx="1088.7" cy="915.8" r="17.4" fill="#349e44" fill-opacity="0.70"/>
<circle cx="1152.2" cy="1084.8" r="17.4" fill="#349e44" fill-opacity="0.70"/>
<circle cx="1181.3" cy="1153.8" r="17.4" fill="#349e44" fill-opacity="0.70"/>
<circle cx="1143.9" cy="1068.0" r="17.4" fill="#30a046" fill-opacity="0.80"/>
<circle cx="1081.0" cy="1040.8" r="17.4" fill="#30a046" fill-opacity="0.80"/>
<circle cx="1072.6" cy="1013.5" r="17.4" fill="#30a046" fill-opacity="0.80"/>
<circle cx="1190.8" cy="1118.2" r="17.4" fill="#30a046" fill-opacity="0.80"/>
<circle cx="1188.7" cy="1086.8" r="17.4" fill="#30a046" fill-opacity="0.80"/>
<circle cx="1055.0" cy="980.5" r="17.4" fill="#2ea248" fill-opacity="0.85"/>
<circle cx="1110.6" cy="991.1" r="17.4" fill="#2ea248" fill-opacity="0.85"/>
<circle cx="1054.0" cy="955.9" r="17.4" fill="#2ea248" fill-opacity="0.85"/>
<circle cx="1100.2" cy="997.0" r="17.4" fill="#2ea248" fill-opacity="0.85"/>
<circle cx="1003.6" cy="893.6" r="17.4" fill="#2ea248" fill-opacity="0.85"/>
<circle cx="1095.4" cy="977.1" r="17.4" fill="#2ea248" fill-opacity="0.85"/>
<circle cx="1083.2" cy="977.1" r="17.4" fill="#2ea248" fill-opacity="0.85"/>
<circle cx="1124.2" cy="1044.7" r="17.4" fill="#2ea248" fill-opacity="0.85"/>
<circle cx="1148.5" cy="1049.6" r="17.4" fill="#2ea248" fill-opacity="0.85"/>
<circle cx="1096.5" cy="1022.4" r="17.4" fill="#2ea248" fill-opacity="0.85"/>
<circle cx="1054.6" cy="979.1" r="17.4" fill="#2ea248" fill-opacity="0.85"/>
<circle cx="1135.8" cy="1040.4" r="17.4" fill="#2ea248" fill-opacity="0.85"/>
<circle cx="1082.9" cy="1004.6" r="17.4" fill="#2ea248" fill-opacity="0.86"/>
<circle cx="1030.3" cy="897.6" r="17.4" fill="#2ea248" fill-opacity="0.86"/>
<circle cx="1014.2" cy="906.7" r="17.4" fill="#2ea248" fill-opacity="0.86"/>
<circle cx="1083.1" cy="982.9" r="17.4" fill="#2ea248" fill-opacity="0.86"/>
<circle cx="1125.4" cy="989.3" r="17.4" fill="#2ea248" fill-opacity="0.86"/>
<circle cx="1098.9" cy="956.9" r="17.4" fill="#2ea248" fill-opacity="0.86"/>
<circle cx="1017.1" cy="898.3" r="17.4" fill="#2ea248" fill-opacity="0.86"/>
<circle cx="1109.2" cy="958.5" r="17.4" fill="#2ea248" fill-opacity="0.86"/>
<circle cx="1152.0" cy="1011.9" r="17.4" fill="#2ea248" fill-opacity="0.86"/>
<circle cx="1078.4" cy="955.4" r="17.4" fill="#2ea248" fill-opacity="0.86"/>
<circle cx="1015.2" cy="934.7" r="17.4" fill="#2ea248" fill-opacity="0.86"/>
<circle cx="1092.2" cy="958.4" r="17.4" fill="#2ea248" fill-opacity="0.86"/>
<circle cx="1065.5" cy="932.9" r="17.4" fill="#2ea248" fill-opacity="0.86"/>
<circle cx="1074.0" cy="985.7" r="17.4" fill="#2ea248" fill-opacity="0.86"/>
<circle cx="1106.6" cy="964.8" r="17.4" fill="#2ea248" fill-opacity="0.86"/>
<circle cx="1133.5" cy="1041.8" r="17.4" fill="#2ea248" fill-opacity="0.86"/>
<circle cx="1054.9" cy="917.5" r="17.4" fill="#2ea248" fill-opacity="0.86"/>
<circle cx="1029.3" cy="924.2" r="17.4" fill="#2ea248" fill-opacity="0.86"/>
<circle cx="1066.0" cy="962.4" r="17.4" fill="#2ea248" fill-opacity="0.86"/>
<circle cx="1123.4" cy="1002.5" r="17.4" fill="#2ea248" fill-opacity="0.86"/>
<circle cx="1052.3" cy="887.4" r="17.4" fill="#2da248" fill-opacity="0.87"/>
<circle cx="1156.8" cy="1052.3" r="17.4" fill="#2da248" fill-opacity="0.87"/>
<circle cx="1050.2" cy="966.8" r="17.4" fill="#2da248" fill-opacity="0.87"/>
<circle cx="1123.3" cy="1010.9" r="17.4" fill="#2da248" fill-opacity="0.87"/>
<circle cx="1095.3" cy="993.6" r="17.4" fill="#2da248" fill-opacity="0.87"/>
<circle cx="992.9" cy="906.8" r="17.4" fill="#2da248" fill-opacity="0.87"/>
<circle cx="1092.2" cy="965.0" r="17.4" fill="#2da248" fill-opacity="0.87"/>
<circle cx="1039.8" cy="961.3" r="17.4" fill="#2da248" fill-opacity="0.87"/>
<circle cx="1073.9" cy="945.9" r="17.4" fill="#2da248" fill-opacity="0.87"/>
<circle cx="1120.2" cy="984.2" r="17.4" fill="#2da248" fill-opacity="0.87"/>
<circle cx="1034.3" cy="905.0" r="17.4" fill="#2da248" fill-opacity="0.87"/>
<circle cx="1114.4" cy="1042.0" r="17.4" fill="#2da248" fill-opacity="0.87"/>
<circle cx="1061.4" cy="986.3" r="17.4" fill="#2da248" fill-opacity="0.87"/>
<circle cx="1009.3" cy="883.3" r="17.4" fill="#2da248" fill-opacity="0.87"/>
<circle cx="1152.2" cy="1055.9" r="17.4" fill="#2da248" fill-opacity="0.87"/>
<circle cx="1101.2" cy="1039.8" r="17.4" fill="#2da248" fill-opacity="0.87"/>
<circle cx="1115.0" cy="1011.9" r="17.4" fill="#2da248" fill-opacity="0.87"/>
<circle cx="1070.9" cy="983.8" r="17.4" fill="#2da248" fill-opacity="0.87"/>
<circle cx="1099.6" cy="951.7" r="17.4" fill="#2da248" fill-opacity="0.87"/>
<circle cx="1060.0" cy="999.9" r="17.4" fill="#2da248" fill-opacity="0.88"/>
<circle cx="1056.6" cy="911.0" r="17.4" fill="#2da248" fill-opacity="0.88"/>
<circle cx="1100.5" cy="955.7" r="17.4" fill="#2da248" fill-opacity="0.88"/>
<circle cx="1100.8" cy="1032.6" r="17.4" fill="#2da248" fill-opacity="0.88"/>
<circle cx="1107.0" cy="1027.1" r="17.4" fill="#2da248" fill-opacity="0.88"/>
<circle cx="1023.1" cy="907.0" r="17.4" fill="#2da248" fill-opacity="0.88"/>
<circle cx="1079.8" cy="1016.5" r="17.4" fill="#2da248" fill-opacity="0.88"/>
<circle cx="1069.9" cy="937.5" r="17.4" fill="#2da248" fill-opacity="0.88"/>
<circle cx="1054.4" cy="964.5" r="17.4" fill="#2da248" fill-opacity="0.88"/>
<circle cx="1006.2" cy="912.6" r="17.4" fill="#2da248" fill-opacity="0.88"/>
<circle cx="1153.7" cy="1049.6" r="17.4" fill="#2da248" fill-opacity="0.88"/>
<circle cx="1057.6" cy="968.9" r="17.4" fill="#2da248" fill-opacity="0.88"/>
<circle cx="1020.7" cy="922.5" r="17.4" fill="#2da248" fill-opacity="0.88"/>
<circle cx="1136.9" cy="992.7" r="17.4" fill="#2da248" fill-opacity="0.88"/>
<circle cx="1015.1" cy="939.6" r="17.4" fill="#2da248" fill-opacity="0.88"/>
<circle cx="1114.7" cy="1010.9" r="17.4" fill="#2da248" fill-opacity="0.88"/>
<circle cx="1072.9" cy="904.7" r="17.4" fill="#2ca349" fill-opacity="0.89"/>
<circle cx="1113.1" cy="973.6" r="17.4" fill="#2ca349" fill-opacity="0.89"/>
<circle cx="1043.9" cy="894.4" r="17.4" fill="#2ca349" fill-opacity="0.89"/>
<circle cx="1014.2" cy="912.8" r="17.4" fill="#2ca349" fill-opacity="0.89"/>
<circle cx="1005.0" cy="917.4" r="17.4" fill="#2ca349" fill-opacity="0.89"/>
<circle cx="1082.0" cy="1003.2" r="17.4" fill="#2ca349" fill-opacity="0.89"/>
<circle cx="1094.7" cy="1026.1" r="17.4" fill="#2ca349" fill-opacity="0.89"/>
<circle cx="1109.1" cy="982.0" r="17.4" fill="#2ca349" fill-opacity="0.89"/>
<circle cx="997.7" cy="904.9" r="17.4" fill="#2ca349" fill-opacity="0.89"/>
<circle cx="1066.3" cy="913.2" r="17.4" fill="#2ca349" fill-opacity="0.89"/>
<circle cx="1099.1" cy="976.9" r="17.4" fill="#2ca349" fill-opacity="0.89"/>
<circle cx="1048.7" cy="974.5" r="17.4" fill="#2ca349" fill-opacity="0.89"/>
<circle cx="1091.6" cy="950.3" r="17.4" fill="#2ca349" fill-opacity="0.89"/>
<circle cx="1094.8" cy="1020.5" r="17.4" fill="#2ca349" fill-opacity="0.89"/>
<circle cx="1066.8" cy="917.7" r="17.4" fill="#2ca349" fill-opacity="0.89"/>
<circle cx="1067.9" cy="960.6" r="17.4" fill="#2ca349" fill-opacity="0.89"/>
<circle cx="1109.0" cy="982.1" r="17.4" fill="#2ca349" fill-opacity="0.89"/>
<circle cx="1085.9" cy="917.1" r="17.4" fill="#2ca349" fill-opacity="0.89"/>
<circle cx="1144.4" cy="1033.8" r="17.4" fill="#2ca349" fill-opacity="0.89"/>
<circle cx="1061.9" cy="996.3" r="17.4" fill="#2ca349" fill-opacity="0.90"/>
<circle cx="1039.0" cy="950.2" r="17.4" fill="#2ca349" fill-opacity="0.90"/>
<circle cx="1087.9" cy="1012.7" r="17.4" fill="#2ca349" fill-opacity="0.90"/>
<circle cx="1072.6" cy="903.5" r="17.4" fill="#2ca349" fill-opacity="0.90"/>
<circle cx="1118.3" cy="1034.1" r="17.4" fill="#2ca349" fill-opacity="0.90"/>
<circle cx="1134.2" cy="1026.2" r="17.4" fill="#2ca349" fill-opacity="0.90"/>
<circle cx="1044.7" cy="895.2" r="17.4" fill="#2ca349" fill-opacity="0.90"/>
<circle cx="1082.5" cy="956.1" r="17.4" fill="#2ca349" fill-opacity="0.90"/>
<circle cx="1047.5" cy="951.0" r="17.4" fill="#2ca349" fill-opacity="0.90"/>
<circle cx="1190.0" cy="1095.3" r="17.4" fill="#2ca349" fill-opacity="0.90"/>
<circle cx="1194.2" cy="1109.9" r="17.4" fill="#2ca349" fill-opacity="0.90"/>
<circle cx="1120.0" cy="998.3" r="17.4" fill="#2ca349" fill-opacity="0.90"/>
<circle cx="995.0" cy="920.7" r="17.4" fill="#2ca349" fill-opacity="0.90"/>
<circle cx="1067.7" cy="992.1" r="17.4" fill="#2ca349" fill-opacity="0.90"/>
<circle cx="1060.9" cy="986.3" r="17.4" fill="#2ca349" fill-opacity="0.90"/>
<circle cx="1132.9" cy="1027.9" r="17.4" fill="#2ca349" fill-opacity="0.90"/>
<circle cx="1144.0" cy="1052.1" r="17.4" fill="#2ca349" fill-opacity="0.90"/>
<circle cx="1153.4" cy="1038.1" r="17.4" fill="#2ca349" fill-opacity="0.90"/>
<circle cx="1133.2" cy="1031.2" r="17.4" fill="#2ca349" fill-opacity="0.90"/>
<circle cx="1091.6" cy="996.1" r="17.4" fill="#2ca349" fill-opacity="0.90"/>
<circle cx="1123.9" cy="1033.2" r="17.4" fill="#2ca349" fill-opacity="0.90"/>
<circle cx="1080.9" cy="924.6" r="17.4" fill="#2ca349" fill-opacity="0.90"/>
<circle cx="1084.9" cy="996.8" r="17.4" fill="#2ca349" fill-opacity="0.91"/>
<circle cx="1030.7" cy="946.5" r="17.4" fill="#2ca349" fill-opacity="0.91"/>
<circle cx="1135.9" cy="1002.3" r="17.4" fill="#2ca349" fill-opacity="0.91"/>
<circle cx="1021.6" cy="949.2" r="17.4" fill="#2ca349" fill-opacity="0.91"/>
<circle cx="1122.7" cy="1017.1" r="17.4" fill="#2ca349" fill-opacity="0.91"/>
<circle cx="1041.8" cy="938.7" r="17.4" fill="#2ca349" fill-opacity="0.91"/>
<circle cx="1068.0" cy="954.9" r="17.4" fill="#2ca349" fill-opacity="0.91"/>
<circle cx="1005.7" cy="927.3" r="17.4" fill="#2ca349" fill-opacity="0.91"/>
<circle cx="1065.9" cy="963.6" r="17.4" fill="#2ca349" fill-opacity="0.91"/>
<circle cx="1131.3" cy="1013.6" r="17.4" fill="#2ca349" fill-opacity="0.91"/>
<circle cx="1103.7" cy="1010.3" r="17.4" fill="#2ca349" fill-opacity="0.91"/>
<circle cx="1110.1" cy="1001.8" r="17.4" fill="#2ca349" fill-opacity="0.91"/>
<circle cx="1046.5" cy="912.2" r="17.4" fill="#2ca349" fill-opacity="0.91"/>
<circle cx="1077.7" cy="950.3" r="17.4" fill="#2ca349" fill-opacity="0.91"/>
<circle cx="1141.0" cy="1021.6" r="17.4" fill="#2ca349" fill-opacity="0.91"/>
<circle cx="1078.4" cy="960.6" r="17.4" fill="#2ca349" fill-opacity="0.91"/>
<circle cx="1118.6" cy="1004.6" r="17.4" fill="#2ca349" fill-opacity="0.91"/>
<circle cx="1053.4" cy="904.6" r="17.4" fill="#2ca349" fill-opacity="0.92"/>
<circle cx="1039.6" cy="935.5" r="17.4" fill="#2ca349" fill-opacity="0.92"/>
<circle cx="1111.3" cy="1026.3" r="17.4" fill="#2ca349" fill-opacity="0.92"/>
<circle cx="1033.6" cy="950.7" r="17.4" fill="#2ca349" fill-opacity="0.92"/>
<circle cx="1086.8" cy="1014.0" r="17.4" fill="#2ca349" fill-opacity="0.92"/>
<circle cx="1113.5" cy="971.5" r="17.4" fill="#2ca349" fill-opacity="0.92"/>
<circle cx="1101.9" cy="1009.5" r="17.4" fill="#2ca349" fill-opacity="0.92"/>
<circle cx="1038.9" cy="961.9" r="17.4" fill="#2ca349" fill-opacity="0.92"/>
<circle cx="1121.4" cy="1024.4" r="17.4" fill="#2ca349" fill-opacity="0.92"/>
<circle cx="1060.9" cy="975.4" r="17.4" fill="#2ca349" fill-opacity="0.92"/>
<circle cx="1099.1" cy="1002.3" r="17.4" fill="#2ca349" fill-opacity="0.92"/>
<circle cx="1051.8" cy="987.1" r="17.4" fill="#2ca349" fill-opacity="0.92"/>
<circle cx="1058.0" cy="948.8" r="17.4" fill="#2ca349" fill-opacity="0.92"/>
<circle cx="1082.9" cy="945.7" r="17.4" fill="#2ca349" fill-opacity="0.93"/>
<circle cx="1094.4" cy="957.3" r="17.4" fill="#2ca349" fill-opacity="0.93"/>
<circle cx="1074.7" cy="984.3" r="17.4" fill="#2ca349" fill-opacity="0.93"/>
<circle cx="1121.2" cy="1045.0" r="17.4" fill="#2ca349" fill-opacity="0.93"/>
<circle cx="1094.5" cy="985.7" r="17.4" fill="#2ca349" fill-opacity="0.93"/>
<circle cx="1073.8" cy="979.1" r="17.4" fill="#2ca349" fill-opacity="0.93"/>
<circle cx="1077.7" cy="947.2" r="17.4" fill="#2ca349" fill-opacity="0.93"/>
<circle cx="1100.5" cy="972.5" r="17.4" fill="#2ca349" fill-opacity="0.93"/>
<circle cx="988.1" cy="904.5" r="17.4" fill="#2ca349" fill-opacity="0.93"/>
<circle cx="1150.8" cy="1039.3" r="17.4" fill="#2ca349" fill-opacity="0.93"/>
<circle cx="1049.7" cy="932.4" r="17.4" fill="#2ca349" fill-opacity="0.93"/>
<circle cx="1078.2" cy="989.0" r="17.4" fill="#2ca349" fill-opacity="0.93"/>
<circle cx="1079.3" cy="968.7" r="17.4" fill="#2ca349" fill-opacity="0.93"/>
<circle cx="1020.8" cy="912.4" r="17.4" fill="#2ca349" fill-opacity="0.94"/>
<circle cx="1039.3" cy="905.3" r="17.4" fill="#2ca349" fill-opacity="0.94"/>
<circle cx="1125.7" cy="1005.0" r="17.4" fill="#2ca349" fill-opacity="0.94"/>
<circle cx="1032.3" cy="886.6" r="17.4" fill="#2ca349" fill-opacity="0.94"/>
<circle cx="1085.9" cy="926.8" r="17.4" fill="#2ca349" fill-opacity="0.94"/>
<circle cx="1149.1" cy="1045.7" r="17.4" fill="#2ca349" fill-opacity="0.94"/>
<circle cx="1062.4" cy="993.4" r="17.4" fill="#2ca349" fill-opacity="0.94"/>
<circle cx="1104.7" cy="1034.0" r="17.4" fill="#2ca349" fill-opacity="0.94"/>
<circle cx="1099.7" cy="995.6" r="17.4" fill="#2ca349" fill-opacity="0.94"/>
<circle cx="1086.3" cy="975.8" r="17.4" fill="#2ca349" fill-opacity="0.94"/>
<circle cx="1138.4" cy="1016.3" r="17.4" fill="#2ca349" fill-opacity="0.94"/>
<circle cx="1075.2" cy="930.8" r="17.4" fill="#2ca349" fill-opacity="0.94"/>
<circle cx="1034.8" cy="932.5" r="17.4" fill="#2ca349" fill-opacity="0.94"/>
<circle cx="1067.9" cy="921.6" r="17.4" fill="#2ca349" fill-opacity="0.94"/>
<circle cx="1075.7" cy="972.0" r="17.4" fill="#2ca349" fill-opacity="0.95"/>
<circle cx="1029.9" cy="913.1" r="17.4" fill="#2ca349" fill-opacity="0.95"/>
<circle cx="1071.4" cy="965.0" r="17.4" fill="#2ca349" fill-opacity="0.95"/>
<circle cx="1103.9" cy="1014.4" r="17.4" fill="#2ca349" fill-opacity="0.95"/>
<circle cx="992.2" cy="901.7" r="17.4" fill="#2ca349" fill-opacity="0.95"/>
<circle cx="993.9" cy="916.9" r="17.4" fill="#2ca349" fill-opacity="0.95"/>
<circle cx="1145.4" cy="1002.2" r="17.4" fill="#2ca349" fill-opacity="0.95"/>
<circle cx="1109.6" cy="1023.2" r="17.4" fill="#2ca349" fill-opacity="0.95"/>
<circle cx="1091.1" cy="986.4" r="17.4" fill="#2ca349" fill-opacity="0.95"/>
<circle cx="1089.2" cy="1005.5" r="17.4" fill="#2ca349" fill-opacity="0.95"/>
<circle cx="1052.0" cy="956.7" r="17.4" fill="#2ca349" fill-opacity="0.95"/>
<circle cx="1053.9" cy="894.9" r="17.4" fill="#2ca349" fill-opacity="0.95"/>
<circle cx="1006.9" cy="903.7" r="17.4" fill="#2ca349" fill-opacity="0.95"/>
<circle cx="1085.0" cy="1021.7" r="17.4" fill="#2ca349" fill-opacity="0.95"/>
<circle cx="1034.1" cy="925.7" r="17.4" fill="#2ca349" fill-opacity="0.95"/>
<circle cx="1059.5" cy="940.4" r="17.4" fill="#2ca349" fill-opacity="0.95"/>
<circle cx="1116.8" cy="984.5" r="17.4" fill="#2ca349" fill-opacity="0.96"/>
<circle cx="1144.1" cy="1035.7" r="17.4" fill="#2ca349" fill-opacity="0.96"/>
<circle cx="1045.0" cy="916.1" r="17.4" fill="#2ca349" fill-opacity="0.96"/>
<circle cx="1077.5" cy="963.7" r="17.4" fill="#2ca349" fill-opacity="0.96"/>
<circle cx="1059.8" cy="963.8" r="17.4" fill="#2ca349" fill-opacity="0.96"/>
<circle cx="1023.0" cy="933.1" r="17.4" fill="#2ca349" fill-opacity="0.96"/>
<circle cx="1057.4" cy="953.4" r="17.4" fill="#2ca349" fill-opacity="0.96"/>
<circle cx="1110.1" cy="992.9" r="17.4" fill="#2ca349" fill-opacity="0.96"/>
<circle cx="1047.1" cy="909.4" r="17.4" fill="#2ca349" fill-opacity="0.96"/>
<circle cx="1135.2" cy="1045.0" r="17.4" fill="#2ca349" fill-opacity="0.96"/>
<circle cx="1079.7" cy="933.3" r="17.4" fill="#2ca349" fill-opacity="0.96"/>
<circle cx="1065.7" cy="941.1" r="17.4" fill="#2ca349" fill-opacity="0.96"/>
<circle cx="1143.5" cy="1031.4" r="17.4" fill="#2ca349" fill-opacity="0.96"/>
<circle cx="1099.6" cy="977.4" r="17.4" fill="#2ca349" fill-opacity="0.96"/>
<circle cx="1062.8" cy="931.5" r="17.4" fill="#2ca349" fill-opacity="0.96"/>
<circle cx="1010.1" cy="923.3" r="17.4" fill="#2ca349" fill-opacity="0.96"/>
<circle cx="1061.8" cy="898.0" r="17.4" fill="#2ca349" fill-opacity="0.96"/>
<circle cx="1076.8" cy="930.2" r="17.4" fill="#2ca349" fill-opacity="0.97"/>
<circle cx="1113.0" cy="988.8" r="17.4" fill="#2ca349" fill-opacity="0.97"/>
<circle cx="1124.0" cy="1006.0" r="17.4" fill="#2ca349" fill-opacity="0.97"/>
<circle cx="1100.0" cy="987.2" r="17.4" fill="#2ca349" fill-opacity="0.97"/>
<circle cx="1081.2" cy="963.3" r="17.4" fill="#2ca349" fill-opacity="0.97"/>
<circle cx="1019.7" cy="920.9" r="17.4" fill="#2ca349" fill-opacity="0.97"/>
<circle cx="1065.0" cy="922.2" r="17.4" fill="#2ca349" fill-opacity="0.97"/>
<circle cx="1062.2" cy="908.9" r="17.4" fill="#2ca349" fill-opacity="0.97"/>
<circle cx="1063.9" cy="953.4" r="17.4" fill="#2ca349" fill-opacity="0.97"/>
<circle cx="1062.7" cy="940.4" r="17.4" fill="#2ca349" fill-opacity="0.97"/>
<circle cx="1052.5" cy="940.6" r="17.4" fill="#2ca349" fill-opacity="0.97"/>
<circle cx="983.0" cy="906.3" r="17.4" fill="#2ca349" fill-opacity="0.97"/>
<circle cx="1138.0" cy="1012.3" r="17.4" fill="#2ca349" fill-opacity="0.97"/>
<circle cx="1051.6" cy="928.9" r="17.4" fill="#2ca349" fill-opacity="0.97"/>
<circle cx="1071.3" cy="997.5" r="17.4" fill="#2ca349" fill-opacity="0.97"/>
<circle cx="1117.6" cy="1032.4" r="17.4" fill="#2ca349" fill-opacity="0.97"/>
<circle cx="1025.4" cy="938.0" r="17.4" fill="#2ca349" fill-opacity="0.97"/>
<circle cx="1122.2" cy="1024.2" r="17.4" fill="#2ca349" fill-opacity="0.97"/>
<circle cx="1112.1" cy="998.1" r="17.4" fill="#2ca349" fill-opacity="0.97"/>
<circle cx="1150.0" cy="1026.3" r="17.4" fill="#2ca349" fill-opacity="0.97"/>
<circle cx="1024.5" cy="884.2" r="17.4" fill="#2ca349" fill-opacity="0.97"/>
<circle cx="1078.7" cy="928.3" r="17.4" fill="#2ca349" fill-opacity="0.97"/>
<circle cx="1092.1" cy="932.3" r="17.4" fill="#2ca349" fill-opacity="0.98"/>
<circle cx="1090.1" cy="944.5" r="17.4" fill="#2ca349" fill-opacity="0.98"/>
<circle cx="1099.0" cy="1038.7" r="17.4" fill="#2ca349" fill-opacity="0.98"/>
<circle cx="1092.1" cy="970.1" r="17.4" fill="#2ca349" fill-opacity="0.98"/>
<circle cx="1044.6" cy="961.6" r="17.4" fill="#2ca349" fill-opacity="0.98"/>
<circle cx="1097.4" cy="1022.3" r="17.4" fill="#2ca349" fill-opacity="0.98"/>
<circle cx="1108.0" cy="989.5" r="17.4" fill="#2ca349" fill-opacity="0.98"/>
</g>
<g id="blue">
<circle cx="932.5" cy="982.8" r="17.4" fill="#1f62b2" fill-opacity="0.40"/>
<circle cx="940.4" cy="1012.7" r="17.4" fill="#1f62b2" fill-opacity="0.40"/>
<circle cx="899.5" cy="1033.9" r="17.4" fill="#1f62b2" fill-opacity="0.40"/>
<circle cx="988.3" cy="1059.1" r="17.4" fill="#1f62b2" fill-opacity="0.40"/>
<circle cx="1030.0" cy="1096.0" r="17.4" fill="#1f62b2" fill-opacity="0.40"/>
<circle cx="1023.7" cy="1138.5" r="17.4" fill="#1f62b2" fill-opacity="0.40"/>
<circle cx="970.3" cy="1184.8" r="17.4" fill="#1f62b2" fill-opacity="0.40"/>
<circle cx="1004.1" cy="1179.3" r="17.4" fill="#1f62b2" fill-opacity="0.40"/>
<circle cx="956.1" cy="1217.9" r="17.4" fill="#1f62b2" fill-opacity="0.40"/>
<circle cx="875.1" cy="1247.7" r="17.4" fill="#1f62b2" fill-opacity="0.40"/>
<circle cx="931.5" cy="1280.6" r="17.4" fill="#1f62b2" fill-opacity="0.40"/>
<circle cx="915.2" cy="995.4" r="17.4" fill="#1e64b2" fill-opacity="0.45"/>
<circle cx="902.6" cy="1027.6" r="17.4" fill="#1e64b2" fill-opacity="0.45"/>
<circle cx="896.4" cy="1046.5" r="17.4" fill="#1e64b2" fill-opacity="0.45"/>
<circle cx="858.6" cy="1073.2" r="17.4" fill="#1e64b2" fill-opacity="0.45"/>
<circle cx="981.3" cy="1109.4" r="17.4" fill="#1e64b2" fill-opacity="0.45"/>
<circle cx="910.5" cy="1227.3" r="17.4" fill="#1e64b2" fill-opacity="0.45"/>
<circle cx="980.8" cy="1074.0" r="17.4" fill="#1e65b2" fill-opacity="0.47"/>
<circle cx="903.0" cy="1104.9" r="17.4" fill="#1e65b2" fill-opacity="0.47"/>
<circle cx="883.8" cy="1065.3" r="17.4" fill="#1e66b3" fill-opacity="0.49"/>
<circle cx="984.5" cy="1168.9" r="17.4" fill="#1e66b3" fill-opacity="0.49"/>
<circle cx="888.2" cy="1154.4" r="17.4" fill="#1e66b3" fill-opacity="0.50"/>
<circle cx="886.9" cy="1070.1" r="17.4" fill="#1e66b3" fill-opacity="0.50"/>
<circle cx="975.0" cy="1085.8" r="17.4" fill="#1e66b3" fill-opacity="0.50"/>
<circle cx="1014.3" cy="1087.4" r="17.4" fill="#1e66b3" fill-opacity="0.50"/>
<circle cx="978.1" cy="1162.8" r="17.4" fill="#1e66b3" fill-opacity="0.50"/>
<circle cx="937.2" cy="1211.6" r="17.4" fill="#1e66b3" fill-opacity="0.50"/>
<circle cx="943.5" cy="1208.4" r="17.4" fill="#1e66b3" fill-opacity="0.50"/>
<circle cx="908.9" cy="1250.9" r="17.4" fill="#1e66b3" fill-opacity="0.50"/>
<circle cx="935.7" cy="1236.7" r="17.4" fill="#1e66b3" fill-opacity="0.50"/>
<circle cx="1023.7" cy="1276.9" r="17.4" fill="#1e66b3" fill-opacity="0.50"/>
<circle cx="886.4" cy="1321.5" r="17.4" fill="#1e66b3" fill-opacity="0.50"/>
<circle cx="878.0" cy="1281.7" r="17.4" fill="#1e66b3" fill-opacity="0.50"/>
<circle cx="954.0" cy="1178.1" r="17.4" fill="#1e66b3" fill-opacity="0.51"/>
<circle cx="925.8" cy="1187.5" r="17.4" fill="#1e67b3" fill-opacity="0.52"/>
<circle cx="936.9" cy="1085.9" r="17.4" fill="#1e67b3" fill-opacity="0.52"/>
<circle cx="888.2" cy="1085.4" r="17.4" fill="#1d67b3" fill-opacity="0.53"/>
<circle cx="914.0" cy="1083.5" r="17.4" fill="#1d67b3" fill-opacity="0.53"/>
<circle cx="921.9" cy="1099.0" r="17.4" fill="#1d68b3" fill-opacity="0.54"/>
<circle cx="938.9" cy="1160.9" r="17.4" fill="#1d68b3" fill-opacity="0.54"/>
<circle cx="921.3" cy="1125.0" r="17.4" fill="#1d68b3" fill-opacity="0.55"/>
<circle cx="945.1" cy="1040.2" r="17.4" fill="#1d68b3" fill-opacity="0.55"/>
<circle cx="857.8" cy="1056.7" r="17.4" fill="#1d68b3" fill-opacity="0.55"/>
<circle cx="923.1" cy="1070.1" r="17.4" fill="#1d68b3" fill-opacity="0.55"/>
<circle cx="831.9" cy="1191.1" r="17.4" fill="#1d68b3" fill-opacity="0.55"/>
<circle cx="993.8" cy="1216.3" r="17.4" fill="#1d68b3" fill-opacity="0.55"/>
<circle cx="1000.1" cy="1243.0" r="17.4" fill="#1d68b3" fill-opacity="0.55"/>
<circle cx="970.1" cy="1094.4" r="17.4" fill="#1d68b3" fill-opacity="0.56"/>
<circle cx="943.6" cy="1100.3" r="17.4" fill="#1d69b3" fill-opacity="0.57"/>
<circle cx="982.4" cy="1118.3" r="17.4" fill="#1d69b3" fill-opacity="0.58"/>
<circle cx="889.8" cy="1118.6" r="17.4" fill="#1d6ab3" fill-opacity="0.59"/>
<circle cx="982.0" cy="1141.4" r="17.4" fill="#1d6ab3" fill-opacity="0.59"/>
<circle cx="964.7" cy="1045.7" r="17.4" fill="#1d6ab3" fill-opacity="0.60"/>
<circle cx="879.1" cy="1066.9" r="17.4" fill="#1d6ab3" fill-opacity="0.60"/>
<circle cx="979.7" cy="1074.8" r="17.4" fill="#1d6ab3" fill-opacity="0.60"/>
<circle cx="971.8" cy="1101.5" r="17.4" fill="#1d6ab3" fill-opacity="0.60"/>
<circle cx="857.0" cy="1111.7" r="17.4" fill="#1d6ab3" fill-opacity="0.60"/>
<circle cx="877.5" cy="1118.8" r="17.4" fill="#1d6ab3" fill-opacity="0.60"/>
<circle cx="929.4" cy="1131.4" r="17.4" fill="#1d6ab3" fill-opacity="0.60"/>
<circle cx="986.0" cy="1142.4" r="17.4" fill="#1d6ab3" fill-opacity="0.60"/>
<circle cx="899.5" cy="1151.8" r="17.4" fill="#1d6ab3" fill-opacity="0.60"/>
<circle cx="937.2" cy="1150.3" r="17.4" fill="#1d6ab3" fill-opacity="0.60"/>
<circle cx="891.6" cy="1192.7" r="17.4" fill="#1d6ab3" fill-opacity="0.60"/>
<circle cx="918.4" cy="1195.8" r="17.4" fill="#1d6ab3" fill-opacity="0.60"/>
<circle cx="904.2" cy="1205.3" r="17.4" fill="#1d6ab3" fill-opacity="0.60"/>
<circle cx="995.4" cy="1232.0" r="17.4" fill="#1d6ab3" fill-opacity="0.60"/>
<circle cx="945.1" cy="1255.6" r="17.4" fill="#1d6ab3" fill-opacity="0.60"/>
<circle cx="901.1" cy="1406.4" r="17.4" fill="#1d6ab3" fill-opacity="0.60"/>
<circle cx="920.0" cy="1318.4" r="17.4" fill="#1d6ab3" fill-opacity="0.60"/>
<circle cx="930.4" cy="1304.7" r="17.4" fill="#1d6ab3" fill-opacity="0.60"/>
<circle cx="955.6" cy="1268.1" r="17.4" fill="#1d6ab3" fill-opacity="0.60"/>
<circle cx="938.2" cy="1122.4" r="17.4" fill="#1d6ab3" fill-opacity="0.60"/>
<circle cx="896.0" cy="1185.5" r="17.4" fill="#1c6ab3" fill-opacity="0.61"/>
<circle cx="963.6" cy="1157.2" r="17.4" fill="#1c6bb3" fill-opacity="0.62"/>
<circle cx="878.4" cy="1140.0" r="17.4" fill="#1c6cb3" fill-opacity="0.64"/>
<circle cx="899.2" cy="1135.0" r="17.4" fill="#1c6cb3" fill-opacity="0.64"/>
<circle cx="851.5" cy="1169.1" r="17.4" fill="#1c6cb4" fill-opacity="0.65"/>
<circle cx="800.4" cy="1216.3" r="17.4" fill="#1c6cb4" fill-opacity="0.65"/>
<circle cx="967.1" cy="1254.0" r="17.4" fill="#1c6cb4" fill-opacity="0.65"/>
<circle cx="966.5" cy="1076.4" r="17.4" fill="#1c6cb4" fill-opacity="0.65"/>
<circle cx="925.2" cy="1141.5" r="17.4" fill="#1c6cb4" fill-opacity="0.65"/>
<circle cx="865.7" cy="1123.9" r="17.4" fill="#1c6db4" fill-opacity="0.67"/>
<circle cx="876.6" cy="1105.6" r="17.4" fill="#1c6db4" fill-opacity="0.68"/>
<circle cx="961.1" cy="1112.5" r="17.4" fill="#1c6db4" fill-opacity="0.68"/>
<circle cx="872.1" cy="1176.7" r="17.4" fill="#1b6eb4" fill-opacity="0.70"/>
<circle cx="902.6" cy="1101.5" r="17.4" fill="#1b6eb4" fill-opacity="0.70"/>
<circle cx="973.4" cy="1068.5" r="17.4" fill="#1b6eb4" fill-opacity="0.70"/>
<circle cx="982.8" cy="1131.4" r="17.4" fill="#1b6eb4" fill-opacity="0.70"/>
<circle cx="872.8" cy="1178.6" r="17.4" fill="#1b6eb4" fill-opacity="0.70"/>
<circle cx="880.5" cy="1447.3" r="17.4" fill="#1b6eb4" fill-opacity="0.70"/>
<circle cx="920.5" cy="1167.7" r="17.4" fill="#1b70b4" fill-opacity="0.74"/>
<circle cx="957.9" cy="1145.0" r="17.4" fill="#1b70b4" fill-opacity="0.75"/>
<circle cx="858.6" cy="1180.1" r="17.4" fill="#1b70b4" fill-opacity="0.75"/>
<circle cx="924.7" cy="1181.7" r="17.4" fill="#1b70b4" fill-opacity="0.75"/>
<circle cx="828.7" cy="1200.6" r="17.4" fill="#1b70b4" fill-opacity="0.75"/>
<circle cx="864.1" cy="1211.6" r="17.4" fill="#1b70b4" fill-opacity="0.75"/>
<circle cx="885.4" cy="1288.0" r="17.4" fill="#1b70b4" fill-opacity="0.75"/>
<circle cx="806.8" cy="1273.3" r="17.4" fill="#1b70b4" fill-opacity="0.75"/>
<circle cx="940.4" cy="1081.1" r="17.4" fill="#1a72b4" fill-opacity="0.80"/>
<circle cx="951.4" cy="1084.2" r="17.4" fill="#1a72b4" fill-opacity="0.80"/>
<circle cx="882.2" cy="1140.8" r="17.4" fill="#1a72b4" fill-opacity="0.80"/>
<circle cx="932.5" cy="1120.4" r="17.4" fill="#1a72b4" fill-opacity="0.80"/>
<circle cx="957.7" cy="1153.4" r="17.4" fill="#1a72b4" fill-opacity="0.80"/>
<circle cx="850.8" cy="1200.6" r="17.4" fill="#1a72b4" fill-opacity="0.80"/>
<circle cx="819.3" cy="1235.2" r="17.4" fill="#1a72b4" fill-opacity="0.80"/>
<circle cx="800.4" cy="1250.9" r="17.4" fill="#1a72b4" fill-opacity="0.80"/>
<circle cx="899.4" cy="1429.5" r="17.4" fill="#1a72b4" fill-opacity="0.80"/>
<circle cx="840.3" cy="1273.3" r="17.4" fill="#1a72b4" fill-opacity="0.80"/>
<circle cx="865.7" cy="1076.4" r="17.4" fill="#1a74b5" fill-opacity="0.85"/>
<circle cx="883.8" cy="1085.8" r="17.4" fill="#1a74b5" fill-opacity="0.85"/>
<circle cx="899.5" cy="1095.2" r="17.4" fill="#1a74b5" fill-opacity="0.85"/>
<circle cx="890.1" cy="1178.6" r="17.4" fill="#1a74b5" fill-opacity="0.85"/>
<circle cx="900.3" cy="1214.7" r="17.4" fill="#1a74b5" fill-opacity="0.85"/>
<circle cx="960.8" cy="1133.0" r="17.4" fill="#1976b5" fill-opacity="0.90"/>
<circle cx="893.2" cy="1162.8" r="17.4" fill="#1976b5" fill-opacity="0.90"/>
<circle cx="958.5" cy="1175.4" r="17.4" fill="#1976b5" fill-opacity="0.90"/>
<circle cx="709.7" cy="1381.3" r="17.4" fill="#1976b5" fill-opacity="0.90"/>
<circle cx="939.9" cy="1323.6" r="17.4" fill="#1976b5" fill-opacity="0.90"/>
<circle cx="951.4" cy="1128.2" r="17.4" fill="#1976b5" fill-opacity="0.95"/>
<circle cx="875.5" cy="1468.3" r="17.4" fill="#1976b5" fill-opacity="0.95"/>
<circle cx="841.3" cy="1241.4" r="17.4" fill="#1976b5" fill-opacity="1.00"/>
</g>
</g>
<text x="813.3" y="109.5" font-size="75.3" text-anchor="middle">Clipping training set</text>
<g id="legend">
<rect x="1105.6" y="178.3" width="508.4" height="478.1" rx="12.5" ry="12.5" fill="#ffffff" fill-opacity="0.8" stroke="#d1d3d4" stroke-opacity="0.8" stroke-width="6.5"/>
<circle cx="1193.3" cy="235.0" r="17.6" fill="#1976b4"/>
<text x="1306" y="250.7" font-size="62.7">Priority 1</text>
<circle cx="1193.3" cy="326.8" r="17.6" fill="#f47f20"/>
<text x="1306" y="342.5" font-size="62.7">Priority 2</text>
<circle cx="1193.3" cy="418.7" r="17.6" fill="#2ba048"/>
<text x="1306" y="434.4" font-size="62.7">Priority 3</text>
<circle cx="1193.3" cy="510.5" r="17.6" fill="#d7232a"/>
<text x="1306" y="526.2" font-size="62.7">Priority 4</text>
<circle cx="1193.3" cy="602.3" r="17.6" fill="#9268ad"/>
<text x="1306" y="618.0" font-size="62.7">Priority 5</text>
</g>
</svg>
</body></html>
